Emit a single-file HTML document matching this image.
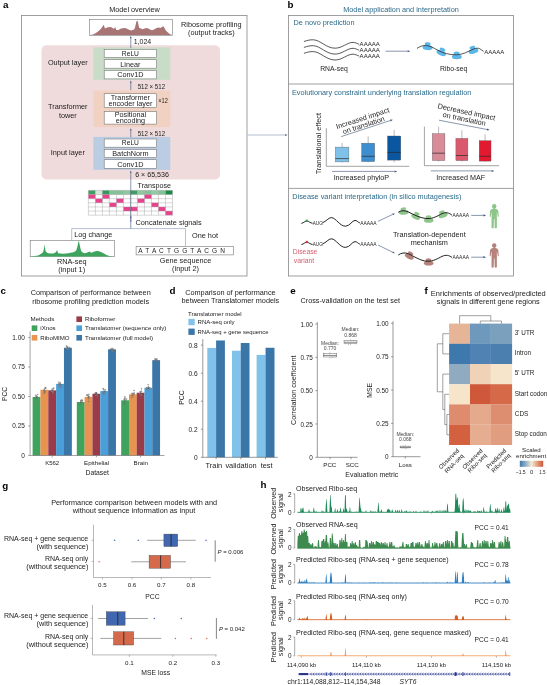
<!DOCTYPE html>
<html lang="en">
<head>
<meta charset="utf-8">
<title>Translatomer figure</title>
<style>
html,body{margin:0;padding:0;background:#fff;}
svg{display:block;font-family:"Liberation Sans",sans-serif;fill:#222;}
</style>
</head>
<body>
<svg width="547" height="685" viewBox="0 0 547 685">
<rect x="0" y="0" width="547" height="685" fill="#ffffff"/>
<text x="3.00" y="7.50" font-size="9.8" fill="#000" font-weight="bold">a</text>
<text x="134.50" y="11.78" font-size="7.3" text-anchor="middle">Model overview</text>
<rect x="21.50" y="15.45" width="225.50" height="260.55" fill="none" stroke="#888" stroke-width="0.8"/>
<rect x="89.30" y="19.60" width="83.30" height="15.70" fill="#fff" stroke="#777" stroke-width="0.6"/>
<path d="M91,34.95 L91,34.7 L93,34.5 L95,33.6 L97,32.3 L99.2,30.6 L101,28.8 L102.6,26.6 L103.7,24.7 L104.4,26.8 L105,28.6 L106.2,28 L107.5,27.3 L109,27.2 L110.7,26.9 L112.2,27.8 L113.5,28.7 L114.6,28 L115.2,26.9 L115.7,28.6 L116.2,29.9 L117.3,30.1 L118.4,29.9 L119.7,29.2 L121,28.6 L123,28.2 L124.8,27.9 L126.4,28.6 L128,29.3 L129.6,30 L131.2,30.5 L132.8,30 L134.4,29.2 L135.4,26 L136.3,21.8 L137.1,20.8 L137.9,21.4 L138.5,25 L139.1,27.8 L140.8,28.6 L142.7,29.3 L144.6,28.6 L146.5,27.9 L148.2,28.6 L150,29.4 L152,30.3 L154,29.6 L156.6,27.9 L158.5,27.6 L160.5,27.9 L162,27 L163.3,26.2 L164.2,27.6 L165.4,29.8 L166.8,31.4 L168.5,33 L170,34.2 L171.8,34.8 L171.8,34.95 Z" fill="#a87474" />
<text x="211.30" y="26.88" font-size="7.3" text-anchor="middle">Ribosome profiling</text>
<text x="211.30" y="34.98" font-size="7.3" text-anchor="middle">(output tracks)</text>
<rect x="41.50" y="45.30" width="178.50" height="134.10" fill="#f0dbdc" rx="5"/>
<rect x="93.40" y="47.40" width="76.90" height="32.40" fill="#c8dcc8"/>
<rect x="93.40" y="90.50" width="76.90" height="36.60" fill="#f1d2c2"/>
<rect x="93.40" y="136.90" width="76.90" height="32.90" fill="#bacde3"/>
<line x1="130.80" y1="45.30" x2="130.80" y2="38.20" stroke="#3a5078" stroke-width="0.6"/>
<path d="M130.80,36.00 L131.70,38.20 L129.90,38.20 Z" fill="#3a5078" />
<line x1="130.80" y1="48.10" x2="130.80" y2="45.30" stroke="#3a5078" stroke-width="0.6"/>
<line x1="130.80" y1="90.10" x2="130.80" y2="82.70" stroke="#3a5078" stroke-width="0.6"/>
<path d="M130.80,80.50 L131.70,82.70 L129.90,82.70 Z" fill="#3a5078" />
<line x1="130.80" y1="137.20" x2="130.80" y2="130.40" stroke="#3a5078" stroke-width="0.6"/>
<path d="M130.80,128.20 L131.70,130.40 L129.90,130.40 Z" fill="#3a5078" />
<rect x="104.20" y="49.30" width="52.40" height="8.20" fill="#fff" stroke="#777" stroke-width="0.6"/>
<text x="130.40" y="55.78" font-size="6.7" text-anchor="middle">ReLU</text>
<rect x="104.20" y="59.70" width="52.40" height="8.50" fill="#fff" stroke="#777" stroke-width="0.6"/>
<text x="130.40" y="66.52" font-size="7.25" text-anchor="middle">Linear</text>
<rect x="104.20" y="70.40" width="52.40" height="8.50" fill="#fff" stroke="#777" stroke-width="0.6"/>
<text x="130.40" y="77.22" font-size="7.25" text-anchor="middle">Conv1D</text>
<rect x="104.20" y="93.70" width="52.40" height="13.80" fill="#fff" stroke="#777" stroke-width="0.6"/>
<text x="130.40" y="100.06" font-size="7.25" text-anchor="middle">Transformer</text>
<text x="130.40" y="105.66" font-size="7.25" text-anchor="middle">encoder layer</text>
<rect x="104.20" y="111.60" width="52.40" height="12.50" fill="#fff" stroke="#777" stroke-width="0.6"/>
<text x="130.40" y="117.31" font-size="7.25" text-anchor="middle">Positional</text>
<text x="130.40" y="122.91" font-size="7.25" text-anchor="middle">encoding</text>
<rect x="104.20" y="139.00" width="52.40" height="8.20" fill="#fff" stroke="#777" stroke-width="0.6"/>
<text x="130.40" y="145.48" font-size="6.7" text-anchor="middle">ReLU</text>
<rect x="104.20" y="149.40" width="52.40" height="8.20" fill="#fff" stroke="#777" stroke-width="0.6"/>
<text x="130.40" y="156.06" font-size="7.25" text-anchor="middle">BatchNorm</text>
<rect x="104.20" y="159.70" width="52.40" height="8.60" fill="#fff" stroke="#777" stroke-width="0.6"/>
<text x="130.40" y="166.56" font-size="7.25" text-anchor="middle">Conv1D</text>
<text x="67.80" y="64.68" font-size="7.3" text-anchor="middle">Output layer</text>
<text x="67.80" y="109.08" font-size="7.3" text-anchor="middle">Transformer</text>
<text x="67.80" y="118.18" font-size="7.3" text-anchor="middle">tower</text>
<text x="67.80" y="154.78" font-size="7.3" text-anchor="middle">Input layer</text>
<text x="133.70" y="44.05" font-size="7.2" textLength="17.50" lengthAdjust="spacingAndGlyphs">1,024</text>
<text x="137.70" y="88.98" font-size="7.0" textLength="27.40" lengthAdjust="spacingAndGlyphs">512 × 512</text>
<text x="137.70" y="135.78" font-size="7.0" textLength="27.40" lengthAdjust="spacingAndGlyphs">512 × 512</text>
<text x="158.30" y="102.91" font-size="6.8" textLength="9.50" lengthAdjust="spacingAndGlyphs">×12</text>
<text x="135.20" y="177.41" font-size="7.1">6 × 65,536</text>
<text x="137.60" y="187.63" font-size="7.15">Transpose</text>
<rect x="88.40" y="190.40" width="7.01" height="4.13" fill="#3f9f63"/>
<rect x="95.41" y="190.40" width="7.01" height="4.13" fill="#d2e9d7"/>
<rect x="102.42" y="190.40" width="7.01" height="4.13" fill="#33985a"/>
<rect x="109.43" y="190.40" width="7.01" height="4.13" fill="#82c297"/>
<rect x="116.43" y="190.40" width="7.01" height="4.13" fill="#82c297"/>
<rect x="123.44" y="190.40" width="7.01" height="4.13" fill="#8cc7a0"/>
<rect x="130.45" y="190.40" width="7.01" height="4.13" fill="#3f9f63"/>
<rect x="137.46" y="190.40" width="7.01" height="4.13" fill="#8cc7a0"/>
<rect x="144.47" y="190.40" width="7.01" height="4.13" fill="#82c297"/>
<rect x="151.47" y="190.40" width="7.01" height="4.13" fill="#92caa5"/>
<rect x="158.48" y="190.40" width="7.01" height="4.13" fill="#82c297"/>
<rect x="165.49" y="190.40" width="7.01" height="4.13" fill="#1b8744"/>
<rect x="88.40" y="194.53" width="7.01" height="4.13" fill="#e8428c"/>
<rect x="102.42" y="194.53" width="7.01" height="4.13" fill="#e8428c"/>
<rect x="144.47" y="194.53" width="7.01" height="4.13" fill="#e8428c"/>
<rect x="95.41" y="198.67" width="7.01" height="4.13" fill="#e8428c"/>
<rect x="116.43" y="198.67" width="7.01" height="4.13" fill="#e8428c"/>
<rect x="137.46" y="198.67" width="7.01" height="4.13" fill="#e8428c"/>
<rect x="109.43" y="202.80" width="7.01" height="4.13" fill="#e8428c"/>
<rect x="151.47" y="202.80" width="7.01" height="4.13" fill="#e8428c"/>
<rect x="123.44" y="206.93" width="7.01" height="4.13" fill="#e8428c"/>
<rect x="130.45" y="206.93" width="7.01" height="4.13" fill="#e8428c"/>
<rect x="158.48" y="206.93" width="7.01" height="4.13" fill="#e8428c"/>
<rect x="165.49" y="211.07" width="7.01" height="4.13" fill="#e8428c"/>
<line x1="88.40" y1="190.40" x2="88.40" y2="215.20" stroke="#9a9a9a" stroke-width="0.4"/>
<line x1="95.41" y1="190.40" x2="95.41" y2="215.20" stroke="#9a9a9a" stroke-width="0.4"/>
<line x1="102.42" y1="190.40" x2="102.42" y2="215.20" stroke="#9a9a9a" stroke-width="0.4"/>
<line x1="109.43" y1="190.40" x2="109.43" y2="215.20" stroke="#9a9a9a" stroke-width="0.4"/>
<line x1="116.43" y1="190.40" x2="116.43" y2="215.20" stroke="#9a9a9a" stroke-width="0.4"/>
<line x1="123.44" y1="190.40" x2="123.44" y2="215.20" stroke="#9a9a9a" stroke-width="0.4"/>
<line x1="130.45" y1="190.40" x2="130.45" y2="215.20" stroke="#9a9a9a" stroke-width="0.4"/>
<line x1="137.46" y1="190.40" x2="137.46" y2="215.20" stroke="#9a9a9a" stroke-width="0.4"/>
<line x1="144.47" y1="190.40" x2="144.47" y2="215.20" stroke="#9a9a9a" stroke-width="0.4"/>
<line x1="151.47" y1="190.40" x2="151.47" y2="215.20" stroke="#9a9a9a" stroke-width="0.4"/>
<line x1="158.48" y1="190.40" x2="158.48" y2="215.20" stroke="#9a9a9a" stroke-width="0.4"/>
<line x1="165.49" y1="190.40" x2="165.49" y2="215.20" stroke="#9a9a9a" stroke-width="0.4"/>
<line x1="172.50" y1="190.40" x2="172.50" y2="215.20" stroke="#9a9a9a" stroke-width="0.4"/>
<line x1="88.40" y1="190.40" x2="172.50" y2="190.40" stroke="#9a9a9a" stroke-width="0.4"/>
<line x1="88.40" y1="194.53" x2="172.50" y2="194.53" stroke="#9a9a9a" stroke-width="0.4"/>
<line x1="88.40" y1="198.67" x2="172.50" y2="198.67" stroke="#9a9a9a" stroke-width="0.4"/>
<line x1="88.40" y1="202.80" x2="172.50" y2="202.80" stroke="#9a9a9a" stroke-width="0.4"/>
<line x1="88.40" y1="206.93" x2="172.50" y2="206.93" stroke="#9a9a9a" stroke-width="0.4"/>
<line x1="88.40" y1="211.07" x2="172.50" y2="211.07" stroke="#9a9a9a" stroke-width="0.4"/>
<line x1="88.40" y1="215.20" x2="172.50" y2="215.20" stroke="#9a9a9a" stroke-width="0.4"/>
<line x1="130.80" y1="228.60" x2="130.80" y2="172.80" stroke="#3a5078" stroke-width="0.6"/>
<path d="M130.80,170.60 L131.70,172.80 L129.90,172.80 Z" fill="#3a5078" />
<line x1="130.80" y1="222.00" x2="130.80" y2="217.80" stroke="#3a5078" stroke-width="0.6"/>
<path d="M130.80,215.60 L131.70,217.80 L129.90,217.80 Z" fill="#3a5078" />
<text x="135.50" y="224.88" font-size="7.3">Concatenate signals</text>
<path d="M71.7,240.6 L71.7,228.6 L185.5,228.6 L185.5,246.4" fill="none" stroke="#8496b5" stroke-width="0.6" />
<text x="74.20" y="237.18" font-size="7.3">Log change</text>
<text x="192.00" y="238.08" font-size="7.3">One hot</text>
<rect x="30.20" y="240.60" width="84.20" height="16.10" fill="#fff" stroke="#777" stroke-width="0.6"/>
<path d="M31.1,256.6 L31.1,256.4 L34,256.1 L37.1,255.7 L39.2,254.9 L41.1,253.8 L43.1,252.2 L43.9,249 L44.5,244.2 L45.1,248.5 L45.7,251.2 L46.8,252.4 L48.2,253.2 L50.6,253.5 L53.2,253.6 L54.6,253.1 L55.8,252.2 L56.5,251 L57,250.2 L57.6,251.8 L58.2,253.2 L60.5,253.6 L63.2,253.8 L65.8,253.5 L68.3,253.2 L70.8,252.8 L73.3,252.2 L75,251.4 L76.3,250.2 L77.2,247.6 L77.9,244.1 L78.4,242 L78.9,240.8 L79.4,243.4 L79.9,246.1 L80.6,249 L81.3,251.2 L82.8,252.4 L84.3,253.2 L85.8,253 L87.4,252.6 L88.4,252 L89.4,251.6 L90.4,252.2 L91.4,252.8 L92.9,252.2 L94.4,251.6 L95.9,251.2 L97.4,251 L98.9,251.3 L100.4,251.8 L102.4,252.7 L104.5,253.8 L106.5,254.9 L108.5,255.8 L111,256.3 L113.5,256.5 L113.5,256.6 Z" fill="#3da35d" />
<text x="71.70" y="264.18" font-size="7.3" text-anchor="middle">RNA-seq</text>
<text x="71.70" y="272.08" font-size="7.3" text-anchor="middle">(input 1)</text>
<rect x="136.10" y="246.40" width="97.40" height="8.50" fill="#fff" stroke="#777" stroke-width="0.6"/>
<text x="138.20" y="253.01" font-size="6.5" textLength="86.80" lengthAdjust="spacing">A T A C T G G T A C G N</text>
<text x="185.50" y="263.18" font-size="7.3" text-anchor="middle">Gene sequence</text>
<text x="185.50" y="270.98" font-size="7.3" text-anchor="middle">(input 2)</text>
<line x1="247.40" y1="135.00" x2="285.50" y2="135.00" stroke="#b4bfce" stroke-width="1.0"/>
<path d="M287.6,135.0 L285.2,133.9 L285.2,136.1 Z" fill="#4a6088" />
<text x="287.50" y="7.50" font-size="9.8" fill="#000" font-weight="bold">b</text>
<text x="401.00" y="11.68" font-size="7.3" text-anchor="middle" fill="#2a6a8a">Model application and interpretation</text>
<rect x="288.40" y="15.45" width="225.00" height="260.55" fill="none" stroke="#888" stroke-width="0.8"/>
<line x1="288.40" y1="84.00" x2="513.40" y2="84.00" stroke="#888" stroke-width="0.8"/>
<line x1="288.40" y1="188.40" x2="513.40" y2="188.40" stroke="#888" stroke-width="0.8"/>
<text x="293.60" y="24.78" font-size="7.3" fill="#2a6a8a">De novo prediction</text>
<path d="M304.30,41.40 C307.30,40.30 310.30,39.70 313.30,39.80 C320.30,40.00 326.30,48.20 335.00,48.20 C342.30,48.20 347.30,42.30 353.00,42.40 C355.30,42.40 357.30,43.60 358.80,44.20" fill="none" stroke="#222" stroke-width="0.75" stroke-linecap="round"/>
<text x="359.60" y="46.46" font-size="6.05">AAAAA</text>
<path d="M304.30,47.30 C307.30,46.20 310.30,45.60 313.30,45.70 C320.30,45.90 326.30,54.10 335.00,54.10 C342.30,54.10 347.30,48.20 353.00,48.30 C355.30,48.30 357.30,49.50 358.80,50.10" fill="none" stroke="#222" stroke-width="0.75" stroke-linecap="round"/>
<text x="359.60" y="52.36" font-size="6.05">AAAAA</text>
<path d="M304.30,53.20 C307.30,52.10 310.30,51.50 313.30,51.60 C320.30,51.80 326.30,60.00 335.00,60.00 C342.30,60.00 347.30,54.10 353.00,54.20 C355.30,54.20 357.30,55.40 358.80,56.00" fill="none" stroke="#222" stroke-width="0.75" stroke-linecap="round"/>
<text x="359.60" y="58.26" font-size="6.05">AAAAA</text>
<line x1="385.50" y1="51.20" x2="407.60" y2="51.20" stroke="#3a5078" stroke-width="0.6"/>
<path d="M410.20,51.20 L407.60,52.20 L407.60,50.20 Z" fill="#3a5078" />
<text x="334.00" y="71.41" font-size="6.8" text-anchor="middle">RNA-seq</text>
<g transform="rotate(5 427.70 45.70)">
<ellipse cx="427.50" cy="43.90" rx="3.0" ry="1.6" fill="#5cb7e6"/>
<ellipse cx="427.70" cy="47.60" rx="5.0" ry="2.5" fill="#5cb7e6"/>
</g>
<g transform="rotate(24 442.00 51.20)">
<ellipse cx="441.80" cy="49.40" rx="3.0" ry="1.6" fill="#5cb7e6"/>
<ellipse cx="442.00" cy="53.10" rx="5.0" ry="2.5" fill="#5cb7e6"/>
</g>
<g transform="rotate(0 456.80 54.80)">
<ellipse cx="456.60" cy="53.00" rx="3.0" ry="1.6" fill="#5cb7e6"/>
<ellipse cx="456.80" cy="56.70" rx="5.0" ry="2.5" fill="#5cb7e6"/>
</g>
<g transform="rotate(-16 473.00 49.20)">
<ellipse cx="472.80" cy="47.40" rx="3.0" ry="1.6" fill="#5cb7e6"/>
<ellipse cx="473.00" cy="51.10" rx="5.0" ry="2.5" fill="#5cb7e6"/>
</g>
<path d="M417.3,48.2 C420,46.4 422.5,45.4 425.5,45.5 C430,45.7 433,47.6 437.4,50.0 C443,53.0 449,54.9 456.6,54.8 C463,54.7 468,51.4 474,48.8 C476,48.0 478,48.0 479.5,48.6 C481,49.3 482,50.6 483.3,51.2" fill="none" stroke="#222" stroke-width="0.75" stroke-linecap="round"/>
<text x="484.20" y="53.94" font-size="6.0">AAAAA</text>
<text x="453.70" y="70.81" font-size="6.8" text-anchor="middle">Ribo-seq</text>
<text x="292.00" y="94.78" font-size="7.3" fill="#2a6a8a">Evolutionary constraint underlying translation regulation</text>
<path d="M326.3,128.1 L326.3,166.3 L409.3,166.3" fill="none" stroke="#666" stroke-width="0.6" />
<text x="320.60" y="143.70" font-size="7.3" text-anchor="middle" transform="rotate(-90 320.60 143.70)">Translational effect</text>
<line x1="342.10" y1="142.70" x2="342.10" y2="162.60" stroke="#8a8a8a" stroke-width="0.6"/>
<rect x="335.30" y="147.10" width="13.60" height="14.80" fill="#7fc1e9" stroke="#555" stroke-width="0.35"/>
<line x1="335.30" y1="158.60" x2="348.90" y2="158.60" stroke="#2a2a2a" stroke-width="0.7"/>
<line x1="368.15" y1="136.30" x2="368.15" y2="162.40" stroke="#8a8a8a" stroke-width="0.6"/>
<rect x="361.60" y="143.20" width="13.10" height="18.40" fill="#3e8ecf" stroke="#555" stroke-width="0.35"/>
<line x1="361.60" y1="156.30" x2="374.70" y2="156.30" stroke="#2a2a2a" stroke-width="0.7"/>
<line x1="394.15" y1="129.90" x2="394.15" y2="162.20" stroke="#8a8a8a" stroke-width="0.6"/>
<rect x="387.50" y="136.00" width="13.30" height="24.10" fill="#0a579f" stroke="#555" stroke-width="0.35"/>
<line x1="387.50" y1="152.40" x2="400.80" y2="152.40" stroke="#2a2a2a" stroke-width="0.7"/>
<text x="363.40" y="120.60" font-size="7.3" text-anchor="middle" transform="rotate(-18.0 363.40 120.60)">Increased impact</text>
<text x="364.40" y="127.40" font-size="7.3" text-anchor="middle" transform="rotate(-18.0 364.40 127.40)">on translation</text>
<line x1="341.20" y1="136.60" x2="390.33" y2="120.51" stroke="#3a5078" stroke-width="0.6"/>
<path d="M392.80,119.70 L390.64,121.46 L390.02,119.56 Z" fill="#3a5078" />
<line x1="332.00" y1="171.40" x2="394.60" y2="171.40" stroke="#3a5078" stroke-width="0.6"/>
<path d="M397.20,171.40 L394.60,172.40 L394.60,170.40 Z" fill="#3a5078" />
<text x="361.40" y="179.75" font-size="7.2" text-anchor="middle">Increased phyloP</text>
<path d="M424.4,126.6 L424.4,165.7 L499.1,165.7" fill="none" stroke="#666" stroke-width="0.6" />
<line x1="438.60" y1="126.60" x2="438.60" y2="161.60" stroke="#8a8a8a" stroke-width="0.6"/>
<rect x="432.30" y="133.70" width="12.60" height="26.90" fill="#d98b98" stroke="#555" stroke-width="0.35"/>
<line x1="432.30" y1="153.20" x2="444.90" y2="153.20" stroke="#2a2a2a" stroke-width="0.7"/>
<line x1="461.90" y1="130.40" x2="461.90" y2="161.60" stroke="#8a8a8a" stroke-width="0.6"/>
<rect x="455.90" y="138.40" width="12.00" height="22.20" fill="#da596d" stroke="#555" stroke-width="0.35"/>
<line x1="455.90" y1="155.50" x2="467.90" y2="155.50" stroke="#2a2a2a" stroke-width="0.7"/>
<line x1="485.10" y1="134.30" x2="485.10" y2="161.90" stroke="#8a8a8a" stroke-width="0.6"/>
<rect x="479.20" y="140.70" width="11.80" height="20.40" fill="#e2192f" stroke="#555" stroke-width="0.35"/>
<line x1="479.20" y1="156.30" x2="491.00" y2="156.30" stroke="#2a2a2a" stroke-width="0.7"/>
<text x="466.00" y="114.40" font-size="7.3" text-anchor="middle" transform="rotate(12.0 466.00 114.40)">Decreased impact</text>
<text x="463.80" y="121.40" font-size="7.3" text-anchor="middle" transform="rotate(12.0 463.80 121.40)">on translation</text>
<line x1="439.00" y1="120.20" x2="487.05" y2="129.51" stroke="#3a5078" stroke-width="0.6"/>
<path d="M489.60,130.00 L486.86,130.49 L487.24,128.52 Z" fill="#3a5078" />
<line x1="430.80" y1="170.90" x2="491.60" y2="170.90" stroke="#3a5078" stroke-width="0.6"/>
<path d="M494.20,170.90 L491.60,171.90 L491.60,169.90 Z" fill="#3a5078" />
<text x="460.70" y="179.85" font-size="7.2" text-anchor="middle">Increased MAF</text>
<text x="292.30" y="199.08" font-size="7.3" fill="#2a6a8a">Disease variant interpretation (in silico mutagenesis)</text>
<path d="M301.8,223.30 C304,222.80 305.5,220.60 307.2,221.00 C309,221.40 310,223.00 312.2,223.20" fill="none" stroke="#151515" stroke-width="0.95" stroke-linecap="round"/>
<circle cx="306.90" cy="220.70" r="1.25" fill="#3da35d"/>
<text x="312.80" y="225.06" font-size="4.6">AUG</text>
<path d="M322.8,222.60 C326,221.80 328.5,217.40 331.5,217.60 C336,218.00 340,226.40 345.5,226.20 C350,226.00 352,220.60 355,220.40 C357,220.40 358,222.40 359.5,222.80" fill="none" stroke="#151515" stroke-width="0.95" stroke-linecap="round"/>
<text x="360.20" y="225.17" font-size="4.9">AAAAA</text>
<path d="M301.8,244.50 C304,244.00 305.5,241.80 307.2,242.20 C309,242.60 310,244.20 312.2,244.40" fill="none" stroke="#151515" stroke-width="0.95" stroke-linecap="round"/>
<circle cx="306.90" cy="241.90" r="1.25" fill="#d0394e"/>
<text x="312.80" y="246.26" font-size="4.6">AUG</text>
<path d="M322.8,243.80 C326,243.00 328.5,238.60 331.5,238.80 C336,239.20 340,247.60 345.5,247.40 C350,247.20 352,241.80 355,241.60 C357,241.60 358,243.60 359.5,244.00" fill="none" stroke="#151515" stroke-width="0.95" stroke-linecap="round"/>
<text x="360.20" y="246.37" font-size="4.9">AAAAA</text>
<text x="292.80" y="254.31" font-size="6.8" fill="#d95c6e">Disease</text>
<text x="293.80" y="262.61" font-size="6.8" fill="#d95c6e">variant</text>
<line x1="378.00" y1="221.30" x2="392.73" y2="214.42" stroke="#3a5078" stroke-width="0.6"/>
<path d="M394.90,213.40 L393.13,215.28 L392.32,213.56 Z" fill="#3a5078" />
<line x1="378.00" y1="245.00" x2="392.75" y2="252.24" stroke="#3a5078" stroke-width="0.6"/>
<path d="M394.90,253.30 L392.33,253.09 L393.16,251.39 Z" fill="#3a5078" />
<g transform="rotate(-5 403.60 210.60)">
<ellipse cx="403.41" cy="208.89" rx="2.8499999999999996" ry="1.52" fill="#8ec58a"/>
<ellipse cx="403.60" cy="212.41" rx="4.75" ry="2.375" fill="#8ec58a"/>
</g>
<g transform="rotate(25 416.40 215.20)">
<ellipse cx="416.21" cy="213.49" rx="2.8499999999999996" ry="1.52" fill="#8ec58a"/>
<ellipse cx="416.40" cy="217.00" rx="4.75" ry="2.375" fill="#8ec58a"/>
</g>
<g transform="rotate(0 428.70 218.60)">
<ellipse cx="428.51" cy="216.89" rx="2.8499999999999996" ry="1.52" fill="#8ec58a"/>
<ellipse cx="428.70" cy="220.41" rx="4.75" ry="2.375" fill="#8ec58a"/>
</g>
<g transform="rotate(-20 442.50 213.60)">
<ellipse cx="442.31" cy="211.89" rx="2.8499999999999996" ry="1.52" fill="#8ec58a"/>
<ellipse cx="442.50" cy="215.41" rx="4.75" ry="2.375" fill="#8ec58a"/>
</g>
<path d="M398.6,212.0 C401,210.2 405,210.4 408,211.8 C414,214.6 420,218.2 427,218.6 C433,219 438,215.6 442,213.6 C446,211.8 449,212.8 451.7,215.0" fill="none" stroke="#151515" stroke-width="0.95" stroke-linecap="round"/>
<text x="452.60" y="217.27" font-size="4.9">AAAAA</text>
<line x1="471.20" y1="215.40" x2="483.40" y2="215.40" stroke="#3a5078" stroke-width="0.6"/>
<path d="M486.00,215.40 L483.40,216.50 L483.40,214.30 Z" fill="#3a5078" />
<circle cx="494.20" cy="206.17" r="2.2226720647773286" fill="#8ec58a"/>
<path transform="translate(494.20 203.90) scale(0.988)" d="M -1.0,4.9 L 1.0,4.9 C 2.8,5.0 3.9,5.8 4.2,7.4 L 4.6,12.6 C 4.6,13.4 3.7,13.5 3.6,12.7 L 3.0,8.8 L 2.7,8.8 L 2.7,24.2 C 2.7,24.9 0.5,24.9 0.5,24.2 L 0.3,15.4 L -0.3,15.4 L -0.5,24.2 C -0.5,24.9 -2.7,24.9 -2.7,24.2 L -2.7,8.8 L -3.0,8.8 L -3.6,12.7 C -3.7,13.5 -4.6,13.4 -4.6,12.6 L -4.2,7.4 C -3.9,5.8 -2.8,5.0 -1.0,4.9 Z" fill="#8ec58a"/>
<rect x="493.31" y="207.85" width="1.78" height="1.19" fill="#8ec58a"/>
<text x="429.30" y="237.08" font-size="7.3" text-anchor="middle">Translation-dependent</text>
<text x="429.30" y="245.48" font-size="7.3" text-anchor="middle">mechanism</text>
<g transform="rotate(25 410.10 254.90)">
<ellipse cx="409.91" cy="253.19" rx="2.8499999999999996" ry="1.52" fill="#b5827c"/>
<ellipse cx="410.10" cy="256.70" rx="4.75" ry="2.375" fill="#b5827c"/>
</g>
<g transform="rotate(0 428.70 261.40)">
<ellipse cx="428.51" cy="259.69" rx="2.8499999999999996" ry="1.52" fill="#b5827c"/>
<ellipse cx="428.70" cy="263.20" rx="4.75" ry="2.375" fill="#b5827c"/>
</g>
<path d="M398.6,254.8 C401,252.8 405,252.4 408,253.6 C414,256.2 420,260.8 427,261.2 C433,261.6 438,258.4 442,256.4 C446,254.6 449,255.2 451.7,257.2" fill="none" stroke="#151515" stroke-width="0.95" stroke-linecap="round"/>
<text x="452.60" y="259.07" font-size="4.9">AAAAA</text>
<line x1="471.20" y1="257.20" x2="483.40" y2="257.20" stroke="#3a5078" stroke-width="0.6"/>
<path d="M486.00,257.20 L483.40,258.30 L483.40,256.10 Z" fill="#3a5078" />
<circle cx="494.20" cy="245.47" r="2.2226720647773313" fill="#b5827c"/>
<path transform="translate(494.20 243.20) scale(0.988)" d="M -1.0,4.9 L 1.0,4.9 C 2.8,5.0 3.9,5.8 4.2,7.4 L 4.6,12.6 C 4.6,13.4 3.7,13.5 3.6,12.7 L 3.0,8.8 L 2.7,8.8 L 2.7,24.2 C 2.7,24.9 0.5,24.9 0.5,24.2 L 0.3,15.4 L -0.3,15.4 L -0.5,24.2 C -0.5,24.9 -2.7,24.9 -2.7,24.2 L -2.7,8.8 L -3.0,8.8 L -3.6,12.7 C -3.7,13.5 -4.6,13.4 -4.6,12.6 L -4.2,7.4 C -3.9,5.8 -2.8,5.0 -1.0,4.9 Z" fill="#b5827c"/>
<rect x="493.31" y="247.15" width="1.78" height="1.19" fill="#b5827c"/>
<text x="0.50" y="294.20" font-size="9.8" fill="#000" font-weight="bold">c</text>
<text x="90.70" y="295.48" font-size="7.3" text-anchor="middle">Comparison of performance between</text>
<text x="90.70" y="303.88" font-size="7.3" text-anchor="middle">ribosome profiling prediction models</text>
<text x="30.50" y="321.31" font-size="6.2">Methods</text>
<rect x="31.70" y="325.40" width="5.60" height="5.60" fill="#3da35d"/>
<text x="40.30" y="330.29" font-size="6.15">iXnos</text>
<rect x="31.70" y="335.00" width="5.60" height="5.60" fill="#e99350"/>
<text x="40.30" y="339.89" font-size="6.15">RiboMIMO</text>
<rect x="76.40" y="316.40" width="5.60" height="5.60" fill="#9a3b4a"/>
<text x="85.00" y="321.29" font-size="6.15">Riboformer</text>
<rect x="76.40" y="325.40" width="5.60" height="5.60" fill="#4b9fd9"/>
<text x="85.00" y="330.29" font-size="6.15">Translatomer (sequence only)</text>
<rect x="76.40" y="335.00" width="5.60" height="5.60" fill="#3b76a9"/>
<text x="85.00" y="339.89" font-size="6.15">Translatomer (full model)</text>
<rect x="32.60" y="396.97" width="7.89" height="58.53" fill="#3da35d"/>
<rect x="40.44" y="389.77" width="7.89" height="65.73" fill="#e99350"/>
<rect x="48.28" y="390.36" width="7.89" height="65.14" fill="#9a3b4a"/>
<rect x="56.12" y="383.87" width="7.89" height="71.63" fill="#4b9fd9"/>
<rect x="63.96" y="347.77" width="7.89" height="107.73" fill="#3b76a9"/>
<line x1="36.52" y1="395.37" x2="36.52" y2="398.57" stroke="#333" stroke-width="0.5"/>
<circle cx="35.68" cy="395.31" r="0.55" fill="#bbb" stroke="#333" stroke-width="0.25"/>
<circle cx="36.85" cy="396.50" r="0.55" fill="#bbb" stroke="#333" stroke-width="0.25"/>
<circle cx="36.92" cy="397.24" r="0.55" fill="#bbb" stroke="#333" stroke-width="0.25"/>
<circle cx="37.60" cy="397.09" r="0.55" fill="#bbb" stroke="#333" stroke-width="0.25"/>
<circle cx="35.75" cy="397.56" r="0.55" fill="#bbb" stroke="#333" stroke-width="0.25"/>
<circle cx="36.42" cy="402.88" r="0.55" fill="#bbb" stroke="#333" stroke-width="0.25"/>
<circle cx="37.60" cy="394.43" r="0.55" fill="#bbb" stroke="#333" stroke-width="0.25"/>
<circle cx="35.40" cy="397.35" r="0.55" fill="#bbb" stroke="#333" stroke-width="0.25"/>
<circle cx="36.95" cy="398.45" r="0.55" fill="#bbb" stroke="#333" stroke-width="0.25"/>
<line x1="44.36" y1="388.17" x2="44.36" y2="391.37" stroke="#333" stroke-width="0.5"/>
<circle cx="45.13" cy="388.16" r="0.55" fill="#bbb" stroke="#333" stroke-width="0.25"/>
<circle cx="44.91" cy="392.56" r="0.55" fill="#bbb" stroke="#333" stroke-width="0.25"/>
<circle cx="44.65" cy="390.96" r="0.55" fill="#bbb" stroke="#333" stroke-width="0.25"/>
<circle cx="43.72" cy="393.31" r="0.55" fill="#bbb" stroke="#333" stroke-width="0.25"/>
<circle cx="44.27" cy="390.47" r="0.55" fill="#bbb" stroke="#333" stroke-width="0.25"/>
<circle cx="45.06" cy="391.84" r="0.55" fill="#bbb" stroke="#333" stroke-width="0.25"/>
<circle cx="45.71" cy="387.81" r="0.55" fill="#bbb" stroke="#333" stroke-width="0.25"/>
<circle cx="44.02" cy="390.39" r="0.55" fill="#bbb" stroke="#333" stroke-width="0.25"/>
<circle cx="45.75" cy="387.92" r="0.55" fill="#bbb" stroke="#333" stroke-width="0.25"/>
<line x1="52.20" y1="388.76" x2="52.20" y2="391.96" stroke="#333" stroke-width="0.5"/>
<circle cx="53.41" cy="391.16" r="0.55" fill="#bbb" stroke="#333" stroke-width="0.25"/>
<circle cx="51.29" cy="390.92" r="0.55" fill="#bbb" stroke="#333" stroke-width="0.25"/>
<circle cx="53.69" cy="388.04" r="0.55" fill="#bbb" stroke="#333" stroke-width="0.25"/>
<circle cx="51.56" cy="391.35" r="0.55" fill="#bbb" stroke="#333" stroke-width="0.25"/>
<circle cx="52.22" cy="389.10" r="0.55" fill="#bbb" stroke="#333" stroke-width="0.25"/>
<circle cx="52.47" cy="391.46" r="0.55" fill="#bbb" stroke="#333" stroke-width="0.25"/>
<circle cx="52.47" cy="392.61" r="0.55" fill="#bbb" stroke="#333" stroke-width="0.25"/>
<circle cx="53.57" cy="388.82" r="0.55" fill="#bbb" stroke="#333" stroke-width="0.25"/>
<circle cx="53.34" cy="393.04" r="0.55" fill="#bbb" stroke="#333" stroke-width="0.25"/>
<line x1="60.04" y1="382.27" x2="60.04" y2="385.47" stroke="#333" stroke-width="0.5"/>
<circle cx="58.96" cy="383.72" r="0.55" fill="#bbb" stroke="#333" stroke-width="0.25"/>
<circle cx="61.19" cy="387.68" r="0.55" fill="#bbb" stroke="#333" stroke-width="0.25"/>
<circle cx="60.26" cy="383.01" r="0.55" fill="#bbb" stroke="#333" stroke-width="0.25"/>
<circle cx="60.72" cy="384.70" r="0.55" fill="#bbb" stroke="#333" stroke-width="0.25"/>
<circle cx="60.28" cy="387.17" r="0.55" fill="#bbb" stroke="#333" stroke-width="0.25"/>
<circle cx="59.35" cy="387.13" r="0.55" fill="#bbb" stroke="#333" stroke-width="0.25"/>
<circle cx="61.61" cy="385.24" r="0.55" fill="#bbb" stroke="#333" stroke-width="0.25"/>
<circle cx="58.72" cy="384.45" r="0.55" fill="#bbb" stroke="#333" stroke-width="0.25"/>
<circle cx="58.92" cy="382.12" r="0.55" fill="#bbb" stroke="#333" stroke-width="0.25"/>
<line x1="67.88" y1="346.17" x2="67.88" y2="349.37" stroke="#333" stroke-width="0.5"/>
<circle cx="67.22" cy="347.98" r="0.55" fill="#bbb" stroke="#333" stroke-width="0.25"/>
<circle cx="66.42" cy="345.95" r="0.55" fill="#bbb" stroke="#333" stroke-width="0.25"/>
<circle cx="68.25" cy="349.14" r="0.55" fill="#bbb" stroke="#333" stroke-width="0.25"/>
<circle cx="67.34" cy="348.17" r="0.55" fill="#bbb" stroke="#333" stroke-width="0.25"/>
<circle cx="69.10" cy="348.83" r="0.55" fill="#bbb" stroke="#333" stroke-width="0.25"/>
<circle cx="69.48" cy="347.64" r="0.55" fill="#bbb" stroke="#333" stroke-width="0.25"/>
<circle cx="67.27" cy="348.84" r="0.55" fill="#bbb" stroke="#333" stroke-width="0.25"/>
<circle cx="66.38" cy="348.33" r="0.55" fill="#bbb" stroke="#333" stroke-width="0.25"/>
<circle cx="66.91" cy="346.73" r="0.55" fill="#bbb" stroke="#333" stroke-width="0.25"/>
<rect x="76.80" y="402.05" width="7.87" height="53.45" fill="#3da35d"/>
<rect x="84.62" y="396.85" width="7.87" height="58.65" fill="#e99350"/>
<rect x="92.44" y="393.79" width="7.87" height="61.71" fill="#9a3b4a"/>
<rect x="100.26" y="391.07" width="7.87" height="64.43" fill="#4b9fd9"/>
<rect x="108.08" y="349.30" width="7.87" height="106.20" fill="#3b76a9"/>
<line x1="80.71" y1="400.45" x2="80.71" y2="403.65" stroke="#333" stroke-width="0.5"/>
<circle cx="79.61" cy="403.40" r="0.55" fill="#bbb" stroke="#333" stroke-width="0.25"/>
<circle cx="79.25" cy="403.10" r="0.55" fill="#bbb" stroke="#333" stroke-width="0.25"/>
<circle cx="82.18" cy="400.89" r="0.55" fill="#bbb" stroke="#333" stroke-width="0.25"/>
<circle cx="81.98" cy="400.61" r="0.55" fill="#bbb" stroke="#333" stroke-width="0.25"/>
<circle cx="80.77" cy="403.43" r="0.55" fill="#bbb" stroke="#333" stroke-width="0.25"/>
<circle cx="81.17" cy="400.15" r="0.55" fill="#bbb" stroke="#333" stroke-width="0.25"/>
<circle cx="81.09" cy="400.74" r="0.55" fill="#bbb" stroke="#333" stroke-width="0.25"/>
<circle cx="82.12" cy="400.14" r="0.55" fill="#bbb" stroke="#333" stroke-width="0.25"/>
<circle cx="81.41" cy="401.96" r="0.55" fill="#bbb" stroke="#333" stroke-width="0.25"/>
<line x1="88.53" y1="395.25" x2="88.53" y2="398.45" stroke="#333" stroke-width="0.5"/>
<circle cx="87.69" cy="395.29" r="0.55" fill="#bbb" stroke="#333" stroke-width="0.25"/>
<circle cx="88.60" cy="401.57" r="0.55" fill="#bbb" stroke="#333" stroke-width="0.25"/>
<circle cx="88.68" cy="398.71" r="0.55" fill="#bbb" stroke="#333" stroke-width="0.25"/>
<circle cx="88.79" cy="396.99" r="0.55" fill="#bbb" stroke="#333" stroke-width="0.25"/>
<circle cx="86.99" cy="394.95" r="0.55" fill="#bbb" stroke="#333" stroke-width="0.25"/>
<circle cx="87.12" cy="395.16" r="0.55" fill="#bbb" stroke="#333" stroke-width="0.25"/>
<circle cx="88.94" cy="394.20" r="0.55" fill="#bbb" stroke="#333" stroke-width="0.25"/>
<circle cx="88.06" cy="397.43" r="0.55" fill="#bbb" stroke="#333" stroke-width="0.25"/>
<circle cx="89.19" cy="396.83" r="0.55" fill="#bbb" stroke="#333" stroke-width="0.25"/>
<line x1="96.35" y1="392.19" x2="96.35" y2="395.39" stroke="#333" stroke-width="0.5"/>
<circle cx="94.94" cy="393.41" r="0.55" fill="#bbb" stroke="#333" stroke-width="0.25"/>
<circle cx="96.91" cy="395.12" r="0.55" fill="#bbb" stroke="#333" stroke-width="0.25"/>
<circle cx="96.21" cy="393.47" r="0.55" fill="#bbb" stroke="#333" stroke-width="0.25"/>
<circle cx="96.65" cy="393.06" r="0.55" fill="#bbb" stroke="#333" stroke-width="0.25"/>
<circle cx="95.75" cy="395.34" r="0.55" fill="#bbb" stroke="#333" stroke-width="0.25"/>
<circle cx="95.93" cy="392.53" r="0.55" fill="#bbb" stroke="#333" stroke-width="0.25"/>
<circle cx="95.96" cy="392.93" r="0.55" fill="#bbb" stroke="#333" stroke-width="0.25"/>
<circle cx="97.22" cy="396.09" r="0.55" fill="#bbb" stroke="#333" stroke-width="0.25"/>
<circle cx="97.10" cy="394.18" r="0.55" fill="#bbb" stroke="#333" stroke-width="0.25"/>
<line x1="104.17" y1="389.47" x2="104.17" y2="392.67" stroke="#333" stroke-width="0.5"/>
<circle cx="103.56" cy="391.63" r="0.55" fill="#bbb" stroke="#333" stroke-width="0.25"/>
<circle cx="103.33" cy="394.27" r="0.55" fill="#bbb" stroke="#333" stroke-width="0.25"/>
<circle cx="103.17" cy="388.51" r="0.55" fill="#bbb" stroke="#333" stroke-width="0.25"/>
<circle cx="102.90" cy="392.17" r="0.55" fill="#bbb" stroke="#333" stroke-width="0.25"/>
<circle cx="103.60" cy="389.36" r="0.55" fill="#bbb" stroke="#333" stroke-width="0.25"/>
<circle cx="103.97" cy="394.02" r="0.55" fill="#bbb" stroke="#333" stroke-width="0.25"/>
<circle cx="105.31" cy="391.86" r="0.55" fill="#bbb" stroke="#333" stroke-width="0.25"/>
<circle cx="104.65" cy="392.50" r="0.55" fill="#bbb" stroke="#333" stroke-width="0.25"/>
<circle cx="105.40" cy="389.85" r="0.55" fill="#bbb" stroke="#333" stroke-width="0.25"/>
<line x1="111.99" y1="347.70" x2="111.99" y2="350.90" stroke="#333" stroke-width="0.5"/>
<circle cx="110.78" cy="349.49" r="0.55" fill="#bbb" stroke="#333" stroke-width="0.25"/>
<circle cx="112.08" cy="349.89" r="0.55" fill="#bbb" stroke="#333" stroke-width="0.25"/>
<circle cx="113.07" cy="350.82" r="0.55" fill="#bbb" stroke="#333" stroke-width="0.25"/>
<circle cx="110.98" cy="349.01" r="0.55" fill="#bbb" stroke="#333" stroke-width="0.25"/>
<circle cx="112.44" cy="350.91" r="0.55" fill="#bbb" stroke="#333" stroke-width="0.25"/>
<circle cx="112.97" cy="349.03" r="0.55" fill="#bbb" stroke="#333" stroke-width="0.25"/>
<circle cx="111.32" cy="349.69" r="0.55" fill="#bbb" stroke="#333" stroke-width="0.25"/>
<circle cx="112.93" cy="349.19" r="0.55" fill="#bbb" stroke="#333" stroke-width="0.25"/>
<circle cx="111.72" cy="350.12" r="0.55" fill="#bbb" stroke="#333" stroke-width="0.25"/>
<rect x="121.20" y="400.28" width="7.81" height="55.22" fill="#3da35d"/>
<rect x="128.96" y="394.38" width="7.81" height="61.12" fill="#e99350"/>
<rect x="136.72" y="392.72" width="7.81" height="62.78" fill="#9a3b4a"/>
<rect x="144.48" y="387.77" width="7.81" height="67.73" fill="#4b9fd9"/>
<rect x="152.24" y="360.16" width="7.81" height="95.34" fill="#3b76a9"/>
<line x1="125.08" y1="398.68" x2="125.08" y2="401.88" stroke="#333" stroke-width="0.5"/>
<circle cx="124.82" cy="396.86" r="0.55" fill="#bbb" stroke="#333" stroke-width="0.25"/>
<circle cx="123.98" cy="402.46" r="0.55" fill="#bbb" stroke="#333" stroke-width="0.25"/>
<circle cx="123.49" cy="403.75" r="0.55" fill="#bbb" stroke="#333" stroke-width="0.25"/>
<circle cx="126.64" cy="398.98" r="0.55" fill="#bbb" stroke="#333" stroke-width="0.25"/>
<circle cx="124.87" cy="404.20" r="0.55" fill="#bbb" stroke="#333" stroke-width="0.25"/>
<circle cx="124.19" cy="399.01" r="0.55" fill="#bbb" stroke="#333" stroke-width="0.25"/>
<circle cx="125.87" cy="401.65" r="0.55" fill="#bbb" stroke="#333" stroke-width="0.25"/>
<circle cx="125.14" cy="398.01" r="0.55" fill="#bbb" stroke="#333" stroke-width="0.25"/>
<circle cx="124.40" cy="399.58" r="0.55" fill="#bbb" stroke="#333" stroke-width="0.25"/>
<line x1="132.84" y1="392.78" x2="132.84" y2="395.98" stroke="#333" stroke-width="0.5"/>
<circle cx="131.46" cy="395.46" r="0.55" fill="#bbb" stroke="#333" stroke-width="0.25"/>
<circle cx="133.12" cy="393.62" r="0.55" fill="#bbb" stroke="#333" stroke-width="0.25"/>
<circle cx="131.38" cy="397.57" r="0.55" fill="#bbb" stroke="#333" stroke-width="0.25"/>
<circle cx="134.13" cy="392.96" r="0.55" fill="#bbb" stroke="#333" stroke-width="0.25"/>
<circle cx="134.11" cy="390.54" r="0.55" fill="#bbb" stroke="#333" stroke-width="0.25"/>
<circle cx="134.12" cy="394.12" r="0.55" fill="#bbb" stroke="#333" stroke-width="0.25"/>
<circle cx="133.62" cy="394.24" r="0.55" fill="#bbb" stroke="#333" stroke-width="0.25"/>
<circle cx="131.79" cy="393.56" r="0.55" fill="#bbb" stroke="#333" stroke-width="0.25"/>
<circle cx="132.92" cy="396.90" r="0.55" fill="#bbb" stroke="#333" stroke-width="0.25"/>
<line x1="140.60" y1="391.12" x2="140.60" y2="394.32" stroke="#333" stroke-width="0.5"/>
<circle cx="140.32" cy="395.02" r="0.55" fill="#bbb" stroke="#333" stroke-width="0.25"/>
<circle cx="140.09" cy="391.80" r="0.55" fill="#bbb" stroke="#333" stroke-width="0.25"/>
<circle cx="139.81" cy="394.05" r="0.55" fill="#bbb" stroke="#333" stroke-width="0.25"/>
<circle cx="141.50" cy="391.16" r="0.55" fill="#bbb" stroke="#333" stroke-width="0.25"/>
<circle cx="140.13" cy="393.45" r="0.55" fill="#bbb" stroke="#333" stroke-width="0.25"/>
<circle cx="141.61" cy="394.83" r="0.55" fill="#bbb" stroke="#333" stroke-width="0.25"/>
<circle cx="139.55" cy="393.78" r="0.55" fill="#bbb" stroke="#333" stroke-width="0.25"/>
<circle cx="141.58" cy="388.80" r="0.55" fill="#bbb" stroke="#333" stroke-width="0.25"/>
<circle cx="141.64" cy="395.25" r="0.55" fill="#bbb" stroke="#333" stroke-width="0.25"/>
<line x1="148.36" y1="386.17" x2="148.36" y2="389.37" stroke="#333" stroke-width="0.5"/>
<circle cx="149.52" cy="387.89" r="0.55" fill="#bbb" stroke="#333" stroke-width="0.25"/>
<circle cx="146.92" cy="387.58" r="0.55" fill="#bbb" stroke="#333" stroke-width="0.25"/>
<circle cx="148.45" cy="389.18" r="0.55" fill="#bbb" stroke="#333" stroke-width="0.25"/>
<circle cx="148.11" cy="384.70" r="0.55" fill="#bbb" stroke="#333" stroke-width="0.25"/>
<circle cx="146.77" cy="388.30" r="0.55" fill="#bbb" stroke="#333" stroke-width="0.25"/>
<circle cx="146.94" cy="388.42" r="0.55" fill="#bbb" stroke="#333" stroke-width="0.25"/>
<circle cx="146.98" cy="388.43" r="0.55" fill="#bbb" stroke="#333" stroke-width="0.25"/>
<circle cx="149.88" cy="388.23" r="0.55" fill="#bbb" stroke="#333" stroke-width="0.25"/>
<circle cx="148.37" cy="387.16" r="0.55" fill="#bbb" stroke="#333" stroke-width="0.25"/>
<line x1="156.12" y1="358.56" x2="156.12" y2="361.76" stroke="#333" stroke-width="0.5"/>
<circle cx="155.53" cy="359.83" r="0.55" fill="#bbb" stroke="#333" stroke-width="0.25"/>
<circle cx="156.59" cy="360.93" r="0.55" fill="#bbb" stroke="#333" stroke-width="0.25"/>
<circle cx="156.40" cy="359.78" r="0.55" fill="#bbb" stroke="#333" stroke-width="0.25"/>
<circle cx="155.57" cy="360.61" r="0.55" fill="#bbb" stroke="#333" stroke-width="0.25"/>
<circle cx="154.92" cy="358.81" r="0.55" fill="#bbb" stroke="#333" stroke-width="0.25"/>
<circle cx="155.74" cy="359.67" r="0.55" fill="#bbb" stroke="#333" stroke-width="0.25"/>
<circle cx="154.78" cy="360.53" r="0.55" fill="#bbb" stroke="#333" stroke-width="0.25"/>
<circle cx="156.45" cy="360.94" r="0.55" fill="#bbb" stroke="#333" stroke-width="0.25"/>
<circle cx="157.02" cy="358.97" r="0.55" fill="#bbb" stroke="#333" stroke-width="0.25"/>
<path d="M30.1,331.3 L30.1,455.5 L164.5,455.5" fill="none" stroke="#666" stroke-width="0.6" />
<line x1="28.20" y1="337.50" x2="30.10" y2="337.50" stroke="#666" stroke-width="0.6"/>
<text x="24.80" y="339.89" font-size="6.45" text-anchor="end">1.00</text>
<line x1="28.20" y1="367.00" x2="30.10" y2="367.00" stroke="#666" stroke-width="0.6"/>
<text x="24.80" y="369.39" font-size="6.45" text-anchor="end">0.75</text>
<line x1="28.20" y1="396.50" x2="30.10" y2="396.50" stroke="#666" stroke-width="0.6"/>
<text x="24.80" y="398.89" font-size="6.45" text-anchor="end">0.50</text>
<line x1="28.20" y1="426.00" x2="30.10" y2="426.00" stroke="#666" stroke-width="0.6"/>
<text x="24.80" y="428.39" font-size="6.45" text-anchor="end">0.25</text>
<line x1="28.20" y1="455.50" x2="30.10" y2="455.50" stroke="#666" stroke-width="0.6"/>
<text x="24.80" y="457.89" font-size="6.45" text-anchor="end">0</text>
<line x1="52.20" y1="455.50" x2="52.20" y2="457.40" stroke="#666" stroke-width="0.6"/>
<line x1="96.40" y1="455.50" x2="96.40" y2="457.40" stroke="#666" stroke-width="0.6"/>
<line x1="140.60" y1="455.50" x2="140.60" y2="457.40" stroke="#666" stroke-width="0.6"/>
<text x="6.90" y="394.00" font-size="6.6" text-anchor="middle" transform="rotate(-90 6.90 394.00)">PCC</text>
<text x="52.20" y="465.04" font-size="6.0" text-anchor="middle">K562</text>
<text x="96.60" y="465.11" font-size="6.2" text-anchor="middle">Epithelial</text>
<text x="140.80" y="465.11" font-size="6.2" text-anchor="middle">Brain</text>
<text x="97.20" y="475.01" font-size="6.8" text-anchor="middle">Dataset</text>
<text x="169.60" y="293.80" font-size="9.8" fill="#000" font-weight="bold">d</text>
<text x="230.40" y="295.18" font-size="7.3" text-anchor="middle">Comparison of performance</text>
<text x="230.40" y="303.28" font-size="7.3" text-anchor="middle">between Translatomer models</text>
<text x="188.10" y="315.66" font-size="6.05">Translatomer model</text>
<rect x="188.40" y="318.90" width="6.30" height="6.30" fill="#80c2e9"/>
<text x="197.60" y="324.04" font-size="6.0">RNA-seq only</text>
<rect x="188.40" y="328.60" width="6.30" height="6.30" fill="#3b76a9"/>
<text x="197.60" y="333.81" font-size="5.9">RNA-seq + gene sequence</text>
<rect x="207.30" y="347.90" width="8.85" height="109.40" fill="#80c2e9"/>
<rect x="216.10" y="340.47" width="8.80" height="116.83" fill="#3b76a9"/>
<rect x="232.00" y="350.71" width="8.80" height="106.59" fill="#80c2e9"/>
<rect x="240.75" y="343.00" width="8.75" height="114.30" fill="#3b76a9"/>
<rect x="256.60" y="354.92" width="9.00" height="102.38" fill="#80c2e9"/>
<rect x="265.55" y="347.76" width="8.95" height="109.54" fill="#3b76a9"/>
<path d="M202.8,339.0 L202.8,457.3 L277.8,457.3" fill="none" stroke="#555" stroke-width="0.6" />
<line x1="200.90" y1="345.10" x2="202.80" y2="345.10" stroke="#555" stroke-width="0.6"/>
<text x="197.60" y="347.84" font-size="6.6" text-anchor="end">0.8</text>
<line x1="200.90" y1="373.15" x2="202.80" y2="373.15" stroke="#555" stroke-width="0.6"/>
<text x="197.60" y="375.89" font-size="6.6" text-anchor="end">0.6</text>
<line x1="200.90" y1="401.20" x2="202.80" y2="401.20" stroke="#555" stroke-width="0.6"/>
<text x="197.60" y="403.94" font-size="6.6" text-anchor="end">0.4</text>
<line x1="200.90" y1="429.25" x2="202.80" y2="429.25" stroke="#555" stroke-width="0.6"/>
<text x="197.60" y="431.99" font-size="6.6" text-anchor="end">0.2</text>
<line x1="200.90" y1="457.30" x2="202.80" y2="457.30" stroke="#555" stroke-width="0.6"/>
<text x="197.60" y="460.04" font-size="6.6" text-anchor="end">0</text>
<line x1="216.10" y1="457.30" x2="216.10" y2="459.20" stroke="#555" stroke-width="0.6"/>
<line x1="240.80" y1="457.30" x2="240.80" y2="459.20" stroke="#555" stroke-width="0.6"/>
<line x1="265.50" y1="457.30" x2="265.50" y2="459.20" stroke="#555" stroke-width="0.6"/>
<text x="184.00" y="397.60" font-size="6.8" text-anchor="middle" transform="rotate(-90 184.00 397.60)">PCC</text>
<text x="213.90" y="468.42" font-size="7.4" text-anchor="middle">Train</text>
<text x="241.00" y="468.42" font-size="7.4" text-anchor="middle">validation</text>
<text x="266.60" y="468.42" font-size="7.4" text-anchor="middle">test</text>
<text x="290.20" y="293.80" font-size="9.8" fill="#000" font-weight="bold">e</text>
<text x="300.50" y="303.46" font-size="7.25">Cross-validation on the test set</text>
<path d="M317.3,322.0 L317.3,457.3 L357.5,457.3" fill="none" stroke="#555" stroke-width="0.6" />
<line x1="315.40" y1="324.00" x2="317.30" y2="324.00" stroke="#555" stroke-width="0.6"/>
<text x="312.90" y="326.68" font-size="6.4" text-anchor="end">1.00</text>
<line x1="315.40" y1="357.32" x2="317.30" y2="357.32" stroke="#555" stroke-width="0.6"/>
<text x="312.90" y="360.00" font-size="6.4" text-anchor="end">0.75</text>
<line x1="315.40" y1="390.65" x2="317.30" y2="390.65" stroke="#555" stroke-width="0.6"/>
<text x="312.90" y="393.33" font-size="6.4" text-anchor="end">0.50</text>
<line x1="315.40" y1="423.98" x2="317.30" y2="423.98" stroke="#555" stroke-width="0.6"/>
<text x="312.90" y="426.65" font-size="6.4" text-anchor="end">0.25</text>
<line x1="315.40" y1="457.30" x2="317.30" y2="457.30" stroke="#555" stroke-width="0.6"/>
<text x="312.90" y="459.98" font-size="6.4" text-anchor="end">0</text>
<line x1="330.00" y1="457.30" x2="330.00" y2="459.20" stroke="#555" stroke-width="0.6"/>
<line x1="351.00" y1="457.30" x2="351.00" y2="459.20" stroke="#555" stroke-width="0.6"/>
<text x="296.20" y="390.30" font-size="7.2" text-anchor="middle" transform="rotate(-90 296.20 390.30)">Correlation coefficient</text>
<rect x="323.20" y="353.40" width="13.60" height="3.60" fill="#f4f4f4" stroke="#555" stroke-width="0.4"/>
<line x1="323.20" y1="355.50" x2="336.80" y2="355.50" stroke="#333" stroke-width="0.5"/>
<line x1="330.00" y1="352.20" x2="330.00" y2="353.40" stroke="#666" stroke-width="0.35"/>
<line x1="330.00" y1="357.00" x2="330.00" y2="358.40" stroke="#666" stroke-width="0.35"/>
<circle cx="331.34" cy="356.60" r="0.35" fill="#777"/>
<circle cx="333.21" cy="357.61" r="0.35" fill="#777"/>
<circle cx="332.61" cy="357.51" r="0.35" fill="#777"/>
<circle cx="324.88" cy="355.21" r="0.35" fill="#777"/>
<circle cx="334.82" cy="356.13" r="0.35" fill="#777"/>
<circle cx="334.36" cy="353.43" r="0.35" fill="#777"/>
<circle cx="329.66" cy="354.10" r="0.35" fill="#777"/>
<circle cx="330.48" cy="355.75" r="0.35" fill="#777"/>
<circle cx="324.70" cy="353.95" r="0.35" fill="#777"/>
<text x="330.00" y="344.70" font-size="5.0" text-anchor="middle" fill="#444">Median:</text>
<text x="330.00" y="350.20" font-size="5.0" text-anchor="middle" fill="#444">0.770</text>
<rect x="344.00" y="340.30" width="13.00" height="3.40" fill="#f4f4f4" stroke="#555" stroke-width="0.4"/>
<line x1="344.00" y1="342.30" x2="357.00" y2="342.30" stroke="#333" stroke-width="0.5"/>
<line x1="350.50" y1="339.10" x2="350.50" y2="340.30" stroke="#666" stroke-width="0.35"/>
<line x1="350.50" y1="343.70" x2="350.50" y2="345.10" stroke="#666" stroke-width="0.35"/>
<circle cx="348.21" cy="344.15" r="0.35" fill="#777"/>
<circle cx="353.26" cy="340.55" r="0.35" fill="#777"/>
<circle cx="353.59" cy="340.45" r="0.35" fill="#777"/>
<circle cx="351.72" cy="340.39" r="0.35" fill="#777"/>
<circle cx="345.32" cy="343.94" r="0.35" fill="#777"/>
<circle cx="347.48" cy="340.82" r="0.35" fill="#777"/>
<circle cx="355.52" cy="343.94" r="0.35" fill="#777"/>
<circle cx="348.31" cy="344.37" r="0.35" fill="#777"/>
<circle cx="350.91" cy="343.02" r="0.35" fill="#777"/>
<text x="350.50" y="331.20" font-size="5.0" text-anchor="middle" fill="#444">Median:</text>
<text x="350.50" y="336.70" font-size="5.0" text-anchor="middle" fill="#444">0.868</text>
<text x="329.80" y="466.91" font-size="6.2" text-anchor="middle">PCC</text>
<text x="352.20" y="466.91" font-size="6.2" text-anchor="middle">SCC</text>
<path d="M393.0,321.2 L393.0,456.7 L420.5,456.7" fill="none" stroke="#555" stroke-width="0.6" />
<line x1="391.10" y1="323.40" x2="393.00" y2="323.40" stroke="#555" stroke-width="0.6"/>
<text x="388.60" y="326.08" font-size="6.4" text-anchor="end">1.00</text>
<line x1="391.10" y1="356.72" x2="393.00" y2="356.72" stroke="#555" stroke-width="0.6"/>
<text x="388.60" y="359.40" font-size="6.4" text-anchor="end">0.75</text>
<line x1="391.10" y1="390.05" x2="393.00" y2="390.05" stroke="#555" stroke-width="0.6"/>
<text x="388.60" y="392.73" font-size="6.4" text-anchor="end">0.50</text>
<line x1="391.10" y1="423.38" x2="393.00" y2="423.38" stroke="#555" stroke-width="0.6"/>
<text x="388.60" y="426.05" font-size="6.4" text-anchor="end">0.25</text>
<line x1="391.10" y1="456.70" x2="393.00" y2="456.70" stroke="#555" stroke-width="0.6"/>
<text x="388.60" y="459.38" font-size="6.4" text-anchor="end">0</text>
<line x1="405.30" y1="456.70" x2="405.30" y2="458.60" stroke="#555" stroke-width="0.6"/>
<text x="372.20" y="390.30" font-size="6.8" text-anchor="middle" transform="rotate(-90 372.20 390.30)">MSE</text>
<rect x="400.10" y="446.10" width="10.40" height="1.80" fill="#f4f4f4" stroke="#555" stroke-width="0.4"/>
<line x1="400.10" y1="447.30" x2="410.50" y2="447.30" stroke="#333" stroke-width="0.5"/>
<line x1="405.30" y1="444.90" x2="405.30" y2="446.10" stroke="#666" stroke-width="0.35"/>
<line x1="405.30" y1="447.90" x2="405.30" y2="449.30" stroke="#666" stroke-width="0.35"/>
<circle cx="402.84" cy="448.20" r="0.35" fill="#777"/>
<circle cx="406.89" cy="448.27" r="0.35" fill="#777"/>
<circle cx="408.58" cy="446.58" r="0.35" fill="#777"/>
<circle cx="404.15" cy="446.25" r="0.35" fill="#777"/>
<circle cx="402.35" cy="445.99" r="0.35" fill="#777"/>
<circle cx="403.65" cy="447.35" r="0.35" fill="#777"/>
<circle cx="401.17" cy="447.54" r="0.35" fill="#777"/>
<circle cx="403.95" cy="446.61" r="0.35" fill="#777"/>
<circle cx="407.95" cy="447.04" r="0.35" fill="#777"/>
<text x="405.30" y="436.00" font-size="5.0" text-anchor="middle" fill="#444">Median:</text>
<text x="405.30" y="441.40" font-size="5.0" text-anchor="middle" fill="#444">0.068</text>
<text x="405.40" y="466.91" font-size="6.2" text-anchor="middle">Loss</text>
<text x="371.80" y="476.75" font-size="6.9" text-anchor="middle">Evaluation metric</text>
<text x="424.60" y="293.60" font-size="9.8" fill="#000" font-weight="bold">f</text>
<text x="488.30" y="295.73" font-size="7.45" text-anchor="middle">Enrichments of observed/predicted</text>
<text x="488.30" y="304.18" font-size="7.3" text-anchor="middle">signals in different gene regions</text>
<rect x="449.10" y="323.60" width="21.00" height="20.30" fill="#e6b497"/>
<rect x="470.00" y="323.60" width="20.90" height="20.30" fill="#6f99bc"/>
<rect x="490.80" y="323.60" width="21.30" height="20.30" fill="#7aa0bd"/>
<rect x="449.10" y="343.80" width="21.00" height="20.30" fill="#3f78ad"/>
<rect x="470.00" y="343.80" width="20.90" height="20.30" fill="#5083b3"/>
<rect x="490.80" y="343.80" width="21.30" height="20.30" fill="#4a7fb0"/>
<rect x="449.10" y="364.00" width="21.00" height="20.30" fill="#90abbf"/>
<rect x="470.00" y="364.00" width="20.90" height="20.30" fill="#f0d3b7"/>
<rect x="490.80" y="364.00" width="21.30" height="20.30" fill="#f6e4cb"/>
<rect x="449.10" y="384.20" width="21.00" height="20.30" fill="#f6e5c9"/>
<rect x="470.00" y="384.20" width="20.90" height="20.30" fill="#cf573a"/>
<rect x="490.80" y="384.20" width="21.30" height="20.30" fill="#d66a48"/>
<rect x="449.10" y="404.40" width="21.00" height="20.30" fill="#de8c6d"/>
<rect x="470.00" y="404.40" width="20.90" height="20.30" fill="#e5a98b"/>
<rect x="490.80" y="404.40" width="21.30" height="20.30" fill="#de8e70"/>
<rect x="449.10" y="424.60" width="21.00" height="20.40" fill="#d3603e"/>
<rect x="470.00" y="424.60" width="20.90" height="20.40" fill="#e6ad90"/>
<rect x="490.80" y="424.60" width="21.30" height="20.40" fill="#e19d80"/>
<path d="M459.6,323.6 L459.6,315.7 L490.8,315.7 L490.8,321.0 M480.3,323.6 L480.3,321.0 L501.5,321.0 L501.5,323.6" fill="none" stroke="#444" stroke-width="0.5" />
<path d="M449.1,333.7 L442.8,333.7 L442.8,353.9 L449.1,353.9 M449.1,414.5 L446.9,414.5 L446.9,434.8 L449.1,434.8 M449.1,394.3 L444.8,394.3 L444.8,424.6 L446.9,424.6 M449.1,374.1 L442.8,374.1 L442.8,409.5 L444.8,409.5 M442.8,343.8 L437.3,343.8 L437.3,391.8 L442.8,391.8" fill="none" stroke="#444" stroke-width="0.5" />
<text x="514.80" y="334.96" font-size="6.35">3' UTR</text>
<text x="514.80" y="355.16" font-size="6.35">Intron</text>
<text x="514.80" y="375.36" font-size="6.35">5' UTR</text>
<text x="514.80" y="395.56" font-size="6.35">Start codon</text>
<text x="514.80" y="415.76" font-size="6.35">CDS</text>
<text x="514.80" y="436.01" font-size="6.35">Stop codon</text>
<text x="459.50" y="451.10" font-size="6.0" text-anchor="end" transform="rotate(-45 459.50 451.10)">Observed</text>
<text x="464.10" y="456.40" font-size="6.0" text-anchor="end" transform="rotate(-45 464.10 456.40)">RNA-seq</text>
<text x="483.20" y="451.10" font-size="6.0" text-anchor="end" transform="rotate(-45 483.20 451.10)">Observed</text>
<text x="487.10" y="455.90" font-size="6.0" text-anchor="end" transform="rotate(-45 487.10 455.90)">Ribo-seq</text>
<text x="506.70" y="451.10" font-size="6.0" text-anchor="end" transform="rotate(-45 506.70 451.10)">Predicted</text>
<text x="510.80" y="455.90" font-size="6.0" text-anchor="end" transform="rotate(-45 510.80 455.90)">Ribo-seq</text>
<text x="531.40" y="452.07" font-size="6.1" text-anchor="middle">Scaled</text>
<text x="516.00" y="458.27" font-size="6.1">enrichment</text>
<defs><linearGradient id="cbar" x1="0" x2="1" y1="0" y2="0"><stop offset="0" stop-color="#3f78ad"/><stop offset="0.25" stop-color="#8fb0c8"/><stop offset="0.5" stop-color="#f6ead2"/><stop offset="0.75" stop-color="#e19d80"/><stop offset="1" stop-color="#cf573a"/></linearGradient></defs>
<rect x="519.80" y="460.80" width="23.40" height="6.00" fill="url(#cbar)"/>
<text x="515.70" y="473.74" font-size="5.7" textLength="10.00" lengthAdjust="spacingAndGlyphs">−1.5</text>
<text x="531.50" y="473.74" font-size="5.7" text-anchor="middle">0</text>
<text x="539.20" y="473.74" font-size="5.7" textLength="6.20" lengthAdjust="spacingAndGlyphs">1.5</text>
<text x="2.20" y="489.00" font-size="9.8" fill="#000" font-weight="bold">g</text>
<text x="134.10" y="504.68" font-size="7.3" text-anchor="middle">Performance comparison between models with and</text>
<text x="134.10" y="513.18" font-size="7.3" text-anchor="middle">without sequence information as input</text>
<path d="M93.5,524.8 L93.5,577.5 L211.0,577.5" fill="none" stroke="#888" stroke-width="0.6" />
<line x1="102.40" y1="577.50" x2="102.40" y2="579.40" stroke="#888" stroke-width="0.6"/>
<text x="102.40" y="587.31" font-size="6.2" text-anchor="middle">0.5</text>
<line x1="132.00" y1="577.50" x2="132.00" y2="579.40" stroke="#888" stroke-width="0.6"/>
<text x="132.00" y="587.31" font-size="6.2" text-anchor="middle">0.6</text>
<line x1="161.30" y1="577.50" x2="161.30" y2="579.40" stroke="#888" stroke-width="0.6"/>
<text x="161.30" y="587.31" font-size="6.2" text-anchor="middle">0.7</text>
<line x1="190.90" y1="577.50" x2="190.90" y2="579.40" stroke="#888" stroke-width="0.6"/>
<text x="190.90" y="587.31" font-size="6.2" text-anchor="middle">0.8</text>
<line x1="91.60" y1="540.30" x2="93.50" y2="540.30" stroke="#888" stroke-width="0.6"/>
<line x1="91.60" y1="561.40" x2="93.50" y2="561.40" stroke="#888" stroke-width="0.6"/>
<line x1="147.10" y1="540.30" x2="195.80" y2="540.30" stroke="#444" stroke-width="0.5"/>
<rect x="163.90" y="534.10" width="13.80" height="12.40" fill="#4267b1" stroke="#444" stroke-width="0.4"/>
<line x1="171.10" y1="534.10" x2="171.10" y2="546.50" stroke="#222" stroke-width="0.8"/>
<circle cx="114.60" cy="540.30" r="0.75" fill="#4267b1"/>
<circle cx="138.20" cy="540.30" r="0.75" fill="#4267b1"/>
<circle cx="206.00" cy="540.30" r="0.75" fill="#4267b1"/>
<line x1="131.30" y1="561.80" x2="186.00" y2="561.80" stroke="#444" stroke-width="0.5"/>
<rect x="149.10" y="555.40" width="21.40" height="12.80" fill="#d5694b" stroke="#444" stroke-width="0.4"/>
<line x1="160.60" y1="555.40" x2="160.60" y2="568.20" stroke="#222" stroke-width="0.8"/>
<circle cx="99.10" cy="561.80" r="0.75" fill="#d5694b"/>
<text x="152.40" y="598.61" font-size="6.8" text-anchor="middle">PCC</text>
<line x1="215.20" y1="540.30" x2="215.20" y2="561.70" stroke="#333" stroke-width="0.6"/>
<text x="217.50" y="554.24" font-size="6.0" font-style="italic">P</text>
<text x="223.20" y="554.24" font-size="6.0">= 0.006</text>
<text x="88.20" y="540.58" font-size="7.0" text-anchor="end">RNA-seq + gene sequence</text>
<text x="88.40" y="548.60" font-size="7.35" text-anchor="end">(with sequence)</text>
<text x="88.20" y="561.18" font-size="7.0" text-anchor="end">RNA-seq only</text>
<text x="88.40" y="568.80" font-size="7.35" text-anchor="end">(without sequence)</text>
<path d="M92.5,604.9 L92.5,654.9 L216.6,654.9" fill="none" stroke="#888" stroke-width="0.6" />
<line x1="129.40" y1="654.90" x2="129.40" y2="656.80" stroke="#888" stroke-width="0.6"/>
<text x="129.40" y="665.31" font-size="6.2" text-anchor="middle">0.1</text>
<line x1="172.80" y1="654.90" x2="172.80" y2="656.80" stroke="#888" stroke-width="0.6"/>
<text x="172.80" y="665.31" font-size="6.2" text-anchor="middle">0.2</text>
<line x1="215.90" y1="654.90" x2="215.90" y2="656.80" stroke="#888" stroke-width="0.6"/>
<text x="215.90" y="665.31" font-size="6.2" text-anchor="middle">0.3</text>
<line x1="90.60" y1="618.40" x2="92.50" y2="618.40" stroke="#888" stroke-width="0.6"/>
<line x1="90.60" y1="638.40" x2="92.50" y2="638.40" stroke="#888" stroke-width="0.6"/>
<line x1="98.10" y1="618.50" x2="148.10" y2="618.50" stroke="#444" stroke-width="0.5"/>
<rect x="106.30" y="611.80" width="18.80" height="13.40" fill="#4267b1" stroke="#444" stroke-width="0.4"/>
<line x1="117.80" y1="611.80" x2="117.80" y2="625.20" stroke="#222" stroke-width="0.8"/>
<circle cx="154.40" cy="618.50" r="0.75" fill="#4267b1"/>
<circle cx="181.30" cy="618.50" r="0.75" fill="#4267b1"/>
<line x1="100.40" y1="638.40" x2="161.30" y2="638.40" stroke="#444" stroke-width="0.5"/>
<rect x="113.60" y="631.80" width="20.00" height="13.20" fill="#d5694b" stroke="#444" stroke-width="0.4"/>
<line x1="123.80" y1="631.80" x2="123.80" y2="645.00" stroke="#222" stroke-width="0.8"/>
<circle cx="175.40" cy="638.40" r="0.75" fill="#d5694b"/>
<circle cx="191.20" cy="638.40" r="0.75" fill="#d5694b"/>
<circle cx="206.70" cy="638.40" r="0.75" fill="#d5694b"/>
<text x="155.70" y="675.41" font-size="6.8" text-anchor="middle">MSE loss</text>
<line x1="216.40" y1="618.00" x2="216.40" y2="638.80" stroke="#333" stroke-width="0.6"/>
<text x="218.90" y="631.04" font-size="6.0" font-style="italic">P</text>
<text x="224.60" y="631.04" font-size="6.0">= 0.042</text>
<text x="88.20" y="618.38" font-size="7.0" text-anchor="end">RNA-seq + gene sequence</text>
<text x="88.40" y="626.10" font-size="7.35" text-anchor="end">(with sequence)</text>
<text x="88.20" y="639.28" font-size="7.0" text-anchor="end">RNA-seq only</text>
<text x="88.40" y="647.10" font-size="7.35" text-anchor="end">(without sequence)</text>
<text x="260.40" y="488.20" font-size="9.8" fill="#000" font-weight="bold">h</text>
<path d="M297.4,512.6 L297.4,512.3 L297.8,512.3 L298.2,512.3 L298.6,512.1 L299.0,512.0 L299.4,512.0 L299.8,512.1 L300.2,512.3 L300.6,508.3 L301.0,507.8 L301.4,508.3 L301.8,511.6 L302.2,508.8 L302.6,508.8 L303.0,507.6 L303.4,507.6 L303.8,511.8 L304.2,512.0 L304.6,512.3 L305.0,512.3 L305.4,512.3 L305.8,512.3 L306.2,512.3 L306.6,512.3 L307.0,512.3 L307.4,512.3 L307.8,512.3 L308.2,512.3 L308.6,510.3 L309.0,509.3 L309.4,510.3 L309.8,512.3 L310.2,512.0 L310.6,511.8 L311.0,511.8 L311.4,511.8 L311.8,512.2 L312.2,512.3 L312.6,512.3 L313.0,512.3 L313.4,509.0 L313.8,507.3 L314.2,509.0 L314.6,511.7 L315.0,511.7 L315.4,512.1 L315.8,511.5 L316.2,511.4 L316.6,511.4 L317.0,511.8 L317.4,512.3 L317.8,512.3 L318.2,512.3 L318.6,512.3 L319.0,512.3 L319.4,512.3 L319.8,512.3 L320.2,512.3 L320.6,512.3 L321.0,512.3 L321.4,512.1 L321.8,510.3 L322.2,510.3 L322.6,512.1 L323.0,511.6 L323.4,511.5 L323.8,511.5 L324.2,511.9 L324.6,512.3 L325.0,512.3 L325.4,512.3 L325.8,504.9 L326.2,499.3 L326.6,499.3 L327.0,504.9 L327.4,512.3 L327.8,512.3 L328.2,512.3 L328.6,512.3 L329.0,512.3 L329.4,512.3 L329.8,502.5 L330.2,495.0 L330.6,495.0 L331.0,502.5 L331.4,507.3 L331.8,507.3 L332.2,511.7 L332.6,512.3 L333.0,512.3 L333.4,512.3 L333.8,512.3 L334.2,512.3 L334.6,510.7 L335.0,508.3 L335.4,508.5 L335.8,512.3 L336.2,512.2 L336.6,511.8 L337.0,511.1 L337.4,509.3 L337.8,509.5 L338.2,511.4 L338.6,512.3 L339.0,511.9 L339.4,511.3 L339.8,511.3 L340.2,509.0 L340.6,507.3 L341.0,509.0 L341.4,512.3 L341.8,512.3 L342.2,512.3 L342.6,512.3 L343.0,510.7 L343.4,508.3 L343.8,508.5 L344.2,511.9 L344.6,509.5 L345.0,495.5 L345.4,495.0 L345.8,495.5 L346.2,509.5 L346.6,508.3 L347.0,509.6 L347.4,511.6 L347.8,512.2 L348.2,512.3 L348.6,511.5 L349.0,511.7 L349.4,510.4 L349.8,507.3 L350.2,507.6 L350.6,511.9 L351.0,511.7 L351.4,511.7 L351.8,511.7 L352.2,511.9 L352.6,511.9 L353.0,512.1 L353.4,512.3 L353.8,512.3 L354.2,512.3 L354.6,512.0 L355.0,511.8 L355.4,512.0 L355.8,512.3 L356.2,512.3 L356.6,511.3 L357.0,511.3 L357.4,512.3 L357.8,512.2 L358.2,511.9 L358.6,511.9 L359.0,504.1 L359.4,497.8 L359.8,497.8 L360.2,504.1 L360.6,508.3 L361.0,508.3 L361.4,511.3 L361.8,511.8 L362.2,511.8 L362.6,511.8 L363.0,512.2 L363.4,512.3 L363.8,511.8 L364.2,511.8 L364.6,512.3 L365.0,512.3 L365.4,512.1 L365.8,510.3 L366.2,510.3 L366.6,512.1 L367.0,512.3 L367.4,512.3 L367.8,512.3 L368.2,512.3 L368.6,512.3 L369.0,512.3 L369.4,512.3 L369.8,512.3 L370.2,512.1 L370.6,510.3 L371.0,510.3 L371.4,512.1 L371.8,511.6 L372.2,511.6 L372.6,511.7 L373.0,511.7 L373.4,511.7 L373.8,511.6 L374.2,511.6 L374.6,512.2 L375.0,512.3 L375.4,511.4 L375.8,511.3 L376.2,511.9 L376.6,512.3 L377.0,512.3 L377.4,512.3 L377.8,508.1 L378.2,502.8 L378.6,502.8 L379.0,508.1 L379.4,512.1 L379.8,511.7 L380.2,511.6 L380.6,511.7 L381.0,511.1 L381.4,509.3 L381.8,509.5 L382.2,512.3 L382.6,512.3 L383.0,512.3 L383.4,511.9 L383.8,511.7 L384.2,511.9 L384.6,512.3 L385.0,512.3 L385.4,512.3 L385.8,512.3 L386.2,512.3 L386.6,512.3 L387.0,510.0 L387.4,508.8 L387.8,510.0 L388.2,509.6 L388.6,508.3 L389.0,509.6 L389.4,510.3 L389.8,509.3 L390.2,510.3 L390.6,512.0 L391.0,512.0 L391.4,511.9 L391.8,510.3 L392.2,509.3 L392.6,510.3 L393.0,511.6 L393.4,512.3 L393.8,512.3 L394.2,512.3 L394.6,512.3 L395.0,512.3 L395.4,509.9 L395.8,509.8 L396.2,511.3 L396.6,512.3 L397.0,511.3 L397.4,509.8 L397.8,509.9 L398.2,512.3 L398.6,511.9 L399.0,509.9 L399.4,509.8 L399.8,511.3 L400.2,512.0 L400.6,512.1 L401.0,512.3 L401.4,509.5 L401.8,509.3 L402.2,511.1 L402.6,512.3 L403.0,512.3 L403.4,512.3 L403.8,512.3 L404.2,511.3 L404.6,511.3 L405.0,511.8 L405.4,511.6 L405.8,511.6 L406.2,510.3 L406.6,510.3 L407.0,511.7 L407.4,511.7 L407.8,512.1 L408.2,512.3 L408.6,512.0 L409.0,511.6 L409.4,511.8 L409.8,511.8 L410.2,511.8 L410.6,511.5 L411.0,511.5 L411.4,512.3 L411.8,512.3 L412.2,512.3 L412.6,512.3 L413.0,512.2 L413.4,511.1 L413.8,511.1 L414.2,512.2 L414.6,512.3 L415.0,512.3 L415.4,512.1 L415.8,510.8 L416.2,510.8 L416.6,512.1 L417.0,512.3 L417.4,512.3 L417.8,512.3 L418.2,512.3 L418.6,512.3 L419.0,512.3 L419.4,512.3 L419.8,512.2 L420.2,511.7 L420.6,511.6 L421.0,511.6 L421.4,511.9 L421.8,512.3 L422.2,512.3 L422.6,512.3 L423.0,512.3 L423.4,512.1 L423.8,510.3 L424.2,510.3 L424.6,512.1 L425.0,512.3 L425.4,512.1 L425.8,510.8 L426.2,510.8 L426.6,511.9 L427.0,512.3 L427.4,512.1 L427.8,510.3 L428.2,510.3 L428.6,512.1 L429.0,512.3 L429.4,512.3 L429.8,512.3 L430.2,512.0 L430.6,511.9 L431.0,511.9 L431.4,511.8 L431.8,511.8 L432.2,511.3 L432.6,510.8 L433.0,511.3 L433.4,512.3 L433.8,512.3 L434.2,512.1 L434.6,511.8 L435.0,511.8 L435.4,511.8 L435.8,510.8 L436.2,510.8 L436.6,511.4 L437.0,511.4 L437.4,511.4 L437.8,510.3 L438.2,510.3 L438.6,511.9 L439.0,511.9 L439.4,512.0 L439.8,509.8 L440.2,509.8 L440.6,512.0 L441.0,512.3 L441.4,512.1 L441.8,510.3 L442.2,510.3 L442.6,511.8 L443.0,511.7 L443.4,511.7 L443.8,509.8 L444.2,509.8 L444.6,511.7 L445.0,511.7 L445.4,510.3 L445.8,510.3 L446.2,511.4 L446.6,512.1 L447.0,506.6 L447.4,503.8 L447.8,503.8 L448.2,510.4 L448.6,512.3 L449.0,512.3 L449.4,512.3 L449.8,512.3 L450.2,512.3 L450.6,512.3 L451.0,511.9 L451.4,511.7 L451.8,512.3 L452.2,512.3 L452.6,512.3 L453.0,512.3 L453.4,512.0 L453.8,511.7 L454.2,511.7 L454.6,512.0 L455.0,505.8 L455.4,494.1 L455.8,493.8 L456.2,493.8 L456.6,500.0 L457.0,499.5 L457.4,497.3 L457.8,497.3 L458.2,505.1 L458.6,508.7 L459.0,504.3 L459.4,504.3 L459.8,508.7 L460.2,511.5 L460.6,511.5 L461.0,512.0 L461.4,512.3 L461.8,512.3 L462.2,511.3 L462.6,501.8 L463.0,498.3 L463.4,498.3 L463.8,501.8 L464.2,511.3 L464.6,511.1 L465.0,509.3 L465.4,509.5 L465.8,512.2 L466.2,511.7 L466.6,510.1 L467.0,509.8 L467.4,510.1 L467.8,512.3 L468.2,511.2 L468.6,509.8 L469.0,509.8 L469.4,511.2 L469.8,511.3 L470.2,511.0 L470.6,510.3 L471.0,511.0 L471.4,512.3 L471.8,512.3 L472.2,512.3 L472.6,512.3 L473.0,512.0 L473.4,511.4 L473.8,511.4 L474.2,511.4 L474.6,511.5 L475.0,511.5 L475.4,511.5 L475.8,511.5 L476.2,512.3 L476.6,512.3 L477.0,512.3 L477.4,510.4 L477.8,510.3 L478.2,511.5 L478.6,511.6 L479.0,511.3 L479.4,510.8 L479.8,510.9 L480.2,511.7 L480.6,511.8 L481.0,510.4 L481.4,510.3 L481.8,511.5 L482.2,512.3 L482.6,512.3 L483.0,512.1 L483.4,507.3 L483.8,507.3 L484.2,509.6 L484.6,511.9 L485.0,511.9 L485.4,512.0 L485.8,511.7 L486.2,511.5 L486.6,511.5 L487.0,511.7 L487.4,512.3 L487.8,512.3 L488.2,512.3 L488.6,512.3 L489.0,512.3 L489.4,512.3 L489.8,507.0 L490.2,504.3 L490.6,504.3 L491.0,510.5 L491.4,512.1 L491.8,510.3 L492.2,510.3 L492.6,512.1 L493.0,512.1 L493.4,512.2 L493.8,512.3 L494.2,512.3 L494.6,512.3 L495.0,510.5 L495.4,508.3 L495.8,508.3 L496.2,510.5 L496.6,511.3 L497.0,507.8 L497.4,507.8 L497.8,509.3 L498.2,512.3 L498.6,510.0 L499.0,508.8 L499.4,508.8 L499.8,511.5 L500.2,512.3 L500.6,512.3 L501.0,511.1 L501.4,509.3 L501.8,509.5 L502.2,511.9 L502.6,512.3 L503.0,512.3 L503.4,509.0 L503.8,507.3 L504.2,507.3 L504.6,511.2 L505.0,510.5 L505.4,501.6 L505.8,501.3 L506.2,501.6 L506.6,510.5 L507.0,506.1 L507.4,505.3 L507.8,506.1 L508.2,504.3 L508.6,503.3 L509.0,504.3 L509.4,509.6 L509.8,508.3 L510.2,509.6 L510.4,512.6 Z" fill="#1f8a5a" />
<line x1="297.40" y1="512.30" x2="510.40" y2="512.30" stroke="#1f8a5a" stroke-width="0.7"/>
<line x1="431.30" y1="512.60" x2="431.30" y2="514.10" stroke="#777" stroke-width="0.4"/>
<line x1="463.80" y1="512.60" x2="463.80" y2="514.10" stroke="#777" stroke-width="0.4"/>
<line x1="496.30" y1="512.60" x2="496.30" y2="514.10" stroke="#777" stroke-width="0.4"/>
<path d="M293.3,493.8 L294.7,493.8 L294.7,512.3 L293.3,512.3" fill="none" stroke="#555" stroke-width="0.5" />
<text x="291.60" y="496.58" font-size="6.4" text-anchor="end">2</text>
<text x="291.60" y="514.58" font-size="6.4" text-anchor="end">0</text>
<text x="296.10" y="491.21" font-size="7.1">Observed Ribo-seq</text>
<path d="M297.4,548.4 L297.4,542.7 L297.8,536.0 L298.2,536.0 L298.6,536.0 L299.0,533.0 L299.4,533.0 L299.8,533.0 L300.2,535.0 L300.6,535.0 L301.0,535.0 L301.4,531.0 L301.8,531.0 L302.2,531.0 L302.6,533.0 L303.0,533.0 L303.4,533.0 L303.8,529.5 L304.2,529.5 L304.6,529.5 L305.0,532.0 L305.4,532.0 L305.8,532.0 L306.2,531.0 L306.6,531.0 L307.0,531.0 L307.4,536.0 L307.8,536.0 L308.2,536.0 L308.6,542.7 L309.0,543.0 L309.4,543.0 L309.8,543.0 L310.2,545.8 L310.6,544.0 L311.0,544.0 L311.4,544.0 L311.8,545.8 L312.2,543.0 L312.6,543.0 L313.0,543.0 L313.4,545.8 L313.8,548.0 L314.2,548.0 L314.6,546.0 L315.0,546.0 L315.4,546.0 L315.8,546.5 L316.2,546.5 L316.6,546.5 L317.0,547.3 L317.4,548.0 L317.8,542.2 L318.2,540.0 L318.6,540.0 L319.0,540.0 L319.4,546.7 L319.8,546.9 L320.2,546.9 L320.6,547.3 L321.0,547.3 L321.4,541.0 L321.8,541.0 L322.2,541.0 L322.6,541.0 L323.0,539.0 L323.4,539.0 L323.8,539.0 L324.2,539.0 L324.6,543.3 L325.0,541.0 L325.4,541.0 L325.8,535.0 L326.2,535.0 L326.6,535.0 L327.0,535.0 L327.4,544.0 L327.8,542.0 L328.2,542.0 L328.6,544.0 L329.0,548.0 L329.4,547.4 L329.8,538.0 L330.2,538.0 L330.6,538.0 L331.0,538.0 L331.4,545.6 L331.8,533.5 L332.2,533.5 L332.6,533.5 L333.0,537.5 L333.4,543.0 L333.8,543.0 L334.2,543.0 L334.6,543.0 L335.0,545.8 L335.4,543.0 L335.8,543.0 L336.2,543.0 L336.6,545.8 L337.0,544.0 L337.4,544.0 L337.8,544.0 L338.2,546.7 L338.6,547.5 L339.0,547.2 L339.4,540.0 L339.8,540.0 L340.2,540.0 L340.6,540.0 L341.0,543.6 L341.4,538.0 L341.8,538.0 L342.2,538.0 L342.6,543.6 L343.0,540.0 L343.4,540.0 L343.8,540.0 L344.2,542.2 L344.6,541.8 L345.0,534.0 L345.4,534.0 L345.8,534.0 L346.2,541.8 L346.6,542.0 L347.0,542.0 L347.4,542.0 L347.8,548.0 L348.2,546.5 L348.6,546.4 L349.0,546.4 L349.4,547.2 L349.8,545.8 L350.2,543.0 L350.6,543.0 L351.0,543.0 L351.4,544.9 L351.8,541.0 L352.2,541.0 L352.6,541.0 L353.0,544.9 L353.4,543.0 L353.8,543.0 L354.2,543.0 L354.6,545.3 L355.0,542.0 L355.4,542.0 L355.8,542.0 L356.2,545.3 L356.6,545.0 L357.0,545.0 L357.4,546.5 L357.8,546.5 L358.2,546.5 L358.6,548.0 L359.0,540.0 L359.4,540.0 L359.8,540.0 L360.2,540.0 L360.6,547.6 L361.0,548.0 L361.4,548.0 L361.8,548.0 L362.2,548.0 L362.6,548.0 L363.0,548.0 L363.4,546.8 L363.8,546.8 L364.2,546.8 L364.6,546.8 L365.0,548.0 L365.4,540.0 L365.8,540.0 L366.2,540.0 L366.6,540.0 L367.0,541.0 L367.4,541.0 L367.8,543.3 L368.2,548.0 L368.6,546.9 L369.0,543.0 L369.4,543.0 L369.8,543.0 L370.2,543.0 L370.6,544.9 L371.0,541.0 L371.4,541.0 L371.8,541.0 L372.2,544.9 L372.6,542.0 L373.0,542.0 L373.4,542.0 L373.8,542.0 L374.2,545.3 L374.6,544.0 L375.0,544.0 L375.4,545.3 L375.8,541.0 L376.2,541.0 L376.6,541.0 L377.0,541.0 L377.4,542.0 L377.8,542.0 L378.2,542.0 L378.6,542.0 L379.0,543.0 L379.4,543.0 L379.8,543.0 L380.2,543.0 L380.6,545.3 L381.0,542.0 L381.4,542.0 L381.8,542.0 L382.2,545.3 L382.6,543.0 L383.0,543.0 L383.4,543.0 L383.8,543.0 L384.2,545.3 L384.6,542.0 L385.0,542.0 L385.4,542.0 L385.8,545.3 L386.2,545.8 L386.6,543.0 L387.0,543.0 L387.4,543.0 L387.8,545.8 L388.2,546.9 L388.6,546.9 L389.0,545.3 L389.4,542.0 L389.8,542.0 L390.2,542.0 L390.6,545.3 L391.0,542.0 L391.4,542.0 L391.8,542.0 L392.2,542.0 L392.6,546.6 L393.0,546.6 L393.4,546.0 L393.8,545.0 L394.2,545.0 L394.6,546.0 L395.0,547.4 L395.4,547.4 L395.8,547.4 L396.2,547.8 L396.6,547.8 L397.0,547.6 L397.4,547.6 L397.8,547.6 L398.2,548.0 L398.6,548.0 L399.0,548.0 L399.4,546.6 L399.8,546.6 L400.2,546.6 L400.6,546.6 L401.0,546.6 L401.4,546.6 L401.8,546.6 L402.2,543.7 L402.6,542.0 L403.0,542.0 L403.4,542.0 L403.8,546.6 L404.2,547.1 L404.6,547.1 L405.0,547.3 L405.4,548.0 L405.8,544.0 L406.2,544.0 L406.6,544.0 L407.0,544.0 L407.4,546.2 L407.8,544.0 L408.2,544.0 L408.6,544.0 L409.0,546.2 L409.4,546.8 L409.8,547.4 L410.2,546.7 L410.6,543.0 L411.0,543.0 L411.4,543.0 L411.8,543.0 L412.2,542.0 L412.6,542.0 L413.0,542.0 L413.4,542.0 L413.8,547.1 L414.2,546.5 L414.6,546.5 L415.0,547.1 L415.4,543.0 L415.8,543.0 L416.2,543.0 L416.6,543.0 L417.0,545.3 L417.4,542.0 L417.8,542.0 L418.2,542.0 L418.6,545.3 L419.0,542.0 L419.4,542.0 L419.8,542.0 L420.2,543.7 L420.6,546.5 L421.0,546.5 L421.4,544.0 L421.8,544.0 L422.2,544.0 L422.6,545.1 L423.0,546.7 L423.4,546.5 L423.8,546.7 L424.2,548.0 L424.6,544.9 L425.0,541.0 L425.4,541.0 L425.8,541.0 L426.2,544.9 L426.6,543.0 L427.0,543.0 L427.4,543.0 L427.8,543.0 L428.2,544.4 L428.6,540.0 L429.0,540.0 L429.4,540.0 L429.8,544.4 L430.2,546.9 L430.6,548.0 L431.0,548.0 L431.4,548.0 L431.8,545.8 L432.2,543.0 L432.6,543.0 L433.0,543.0 L433.4,545.8 L433.8,546.9 L434.2,545.3 L434.6,542.0 L435.0,542.0 L435.4,542.0 L435.8,545.3 L436.2,543.0 L436.6,543.0 L437.0,543.0 L437.4,543.0 L437.8,546.5 L438.2,546.5 L438.6,548.0 L439.0,544.4 L439.4,543.0 L439.8,543.0 L440.2,543.0 L440.6,547.2 L441.0,544.0 L441.4,544.0 L441.8,544.0 L442.2,545.1 L442.6,543.7 L443.0,542.0 L443.4,542.0 L443.8,542.0 L444.2,547.0 L444.6,547.2 L445.0,541.0 L445.4,541.0 L445.8,541.0 L446.2,541.0 L446.6,544.4 L447.0,540.0 L447.4,540.0 L447.8,540.0 L448.2,544.4 L448.6,541.0 L449.0,541.0 L449.4,541.0 L449.8,541.0 L450.2,547.6 L450.6,548.0 L451.0,541.0 L451.4,541.0 L451.8,541.0 L452.2,541.0 L452.6,543.0 L453.0,543.0 L453.4,543.0 L453.8,546.5 L454.2,546.5 L454.6,546.5 L455.0,539.1 L455.4,531.0 L455.8,531.0 L456.2,531.0 L456.6,531.0 L457.0,531.5 L457.4,531.5 L457.8,531.5 L458.2,545.2 L458.6,548.0 L459.0,548.0 L459.4,548.0 L459.8,547.6 L460.2,547.0 L460.6,547.0 L461.0,547.7 L461.4,547.6 L461.8,539.3 L462.2,533.0 L462.6,533.0 L463.0,533.0 L463.4,533.0 L463.8,539.2 L464.2,544.0 L464.6,544.0 L465.0,544.0 L465.4,546.7 L465.8,545.3 L466.2,544.0 L466.6,544.0 L467.0,545.3 L467.4,548.0 L467.8,548.0 L468.2,548.0 L468.6,548.0 L469.0,548.0 L469.4,548.0 L469.8,548.0 L470.2,548.0 L470.6,543.7 L471.0,542.0 L471.4,542.0 L471.8,542.0 L472.2,543.0 L472.6,543.0 L473.0,543.0 L473.4,546.6 L473.8,547.5 L474.2,547.2 L474.6,547.2 L475.0,547.2 L475.4,547.5 L475.8,547.9 L476.2,547.2 L476.6,547.2 L477.0,542.2 L477.4,540.0 L477.8,540.0 L478.2,540.0 L478.6,546.7 L479.0,547.5 L479.4,544.4 L479.8,543.0 L480.2,543.0 L480.6,543.0 L481.0,547.0 L481.4,547.0 L481.8,542.9 L482.2,541.0 L482.6,541.0 L483.0,541.0 L483.4,544.4 L483.8,540.0 L484.2,540.0 L484.6,540.0 L485.0,544.4 L485.4,541.0 L485.8,541.0 L486.2,541.0 L486.6,541.0 L487.0,544.9 L487.4,541.0 L487.8,541.0 L488.2,541.0 L488.6,544.9 L489.0,546.9 L489.4,546.9 L489.8,547.0 L490.2,543.0 L490.6,543.0 L491.0,543.0 L491.4,543.0 L491.8,544.4 L492.2,540.0 L492.6,540.0 L493.0,540.0 L493.4,544.4 L493.8,542.0 L494.2,542.0 L494.6,542.0 L495.0,542.0 L495.4,547.5 L495.8,548.0 L496.2,548.0 L496.6,548.0 L497.0,548.0 L497.4,548.0 L497.8,548.0 L498.2,547.0 L498.6,542.0 L499.0,542.0 L499.4,542.0 L499.8,543.7 L500.2,542.9 L500.6,541.0 L501.0,541.0 L501.4,541.0 L501.8,546.8 L502.2,542.0 L502.6,542.0 L503.0,542.0 L503.4,543.7 L503.8,547.4 L504.2,546.0 L504.6,536.0 L505.0,536.0 L505.4,536.0 L505.8,539.3 L506.2,542.0 L506.6,542.0 L507.0,537.0 L507.4,537.0 L507.8,537.0 L508.2,537.0 L508.6,542.9 L509.0,541.0 L509.4,541.0 L509.8,541.0 L510.2,546.8 L510.4,548.4 Z" fill="#3c8a4e" />
<line x1="297.40" y1="548.00" x2="510.40" y2="548.00" stroke="#3c8a4e" stroke-width="0.7"/>
<path d="M293.3,529.4 L294.7,529.4 L294.7,548.0 L293.3,548.0" fill="none" stroke="#555" stroke-width="0.5" />
<text x="291.60" y="532.18" font-size="6.4" text-anchor="end">2</text>
<text x="291.60" y="550.28" font-size="6.4" text-anchor="end">0</text>
<text x="296.10" y="527.21" font-size="7.1">Observed RNA-seq</text>
<text x="508.80" y="529.94" font-size="6.6" text-anchor="end">PCC = 0.41</text>
<path d="M297.4,583.2 L297.4,582.9 L297.8,582.9 L298.2,582.6 L298.6,582.7 L299.0,580.9 L299.4,578.4 L299.8,578.4 L300.2,582.9 L300.6,582.0 L301.0,580.9 L301.4,582.0 L301.8,580.7 L302.2,580.7 L302.6,582.8 L303.0,582.0 L303.4,580.9 L303.8,582.0 L304.2,582.7 L304.6,579.9 L305.0,579.9 L305.4,582.9 L305.8,580.4 L306.2,580.4 L306.6,578.4 L307.0,578.4 L307.4,582.0 L307.8,582.9 L308.2,582.9 L308.6,582.9 L309.0,582.5 L309.4,582.5 L309.8,582.8 L310.2,582.8 L310.6,582.9 L311.0,582.9 L311.4,582.6 L311.8,582.6 L312.2,582.6 L312.6,582.9 L313.0,582.9 L313.4,582.9 L313.8,581.9 L314.2,581.9 L314.6,582.8 L315.0,582.9 L315.4,582.9 L315.8,582.9 L316.2,582.9 L316.6,582.9 L317.0,582.9 L317.4,582.9 L317.8,582.9 L318.2,582.9 L318.6,582.9 L319.0,582.9 L319.4,582.9 L319.8,582.9 L320.2,582.9 L320.6,582.9 L321.0,582.9 L321.4,582.9 L321.8,582.9 L322.2,582.9 L322.6,582.9 L323.0,582.9 L323.4,582.9 L323.8,582.9 L324.2,582.9 L324.6,582.9 L325.0,582.9 L325.4,582.9 L325.8,577.5 L326.2,574.5 L326.6,574.5 L327.0,582.9 L327.4,582.9 L327.8,582.9 L328.2,582.9 L328.6,582.7 L329.0,582.7 L329.4,582.7 L329.8,582.6 L330.2,572.4 L330.6,572.4 L331.0,578.2 L331.4,572.9 L331.8,572.9 L332.2,582.9 L332.6,582.9 L333.0,582.9 L333.4,582.9 L333.8,582.9 L334.2,582.9 L334.6,582.9 L335.0,582.9 L335.4,582.9 L335.8,582.9 L336.2,582.9 L336.6,582.9 L337.0,582.9 L337.4,582.9 L337.8,582.9 L338.2,582.9 L338.6,582.9 L339.0,582.9 L339.4,582.9 L339.8,582.9 L340.2,582.9 L340.6,582.9 L341.0,582.9 L341.4,582.9 L341.8,582.8 L342.2,582.6 L342.6,582.6 L343.0,582.8 L343.4,582.9 L343.8,582.9 L344.2,582.9 L344.6,582.9 L345.0,577.3 L345.4,574.2 L345.8,574.2 L346.2,582.9 L346.6,582.9 L347.0,582.9 L347.4,582.8 L347.8,582.6 L348.2,582.8 L348.6,582.8 L349.0,582.8 L349.4,582.7 L349.8,582.7 L350.2,582.9 L350.6,582.9 L351.0,582.7 L351.4,582.6 L351.8,582.7 L352.2,582.9 L352.6,582.9 L353.0,582.9 L353.4,582.9 L353.8,582.9 L354.2,582.9 L354.6,582.9 L355.0,582.9 L355.4,582.9 L355.8,582.9 L356.2,582.9 L356.6,582.9 L357.0,582.9 L357.4,582.9 L357.8,582.9 L358.2,582.9 L358.6,582.9 L359.0,582.9 L359.4,582.7 L359.8,582.7 L360.2,582.9 L360.6,582.9 L361.0,582.9 L361.4,582.9 L361.8,582.9 L362.2,582.9 L362.6,582.9 L363.0,582.9 L363.4,582.9 L363.8,582.7 L364.2,582.7 L364.6,582.9 L365.0,582.9 L365.4,582.9 L365.8,582.9 L366.2,582.9 L366.6,582.9 L367.0,582.9 L367.4,582.9 L367.8,582.9 L368.2,582.9 L368.6,582.9 L369.0,582.9 L369.4,582.9 L369.8,582.5 L370.2,582.5 L370.6,582.5 L371.0,582.8 L371.4,582.9 L371.8,582.9 L372.2,582.9 L372.6,582.6 L373.0,582.3 L373.4,582.6 L373.8,582.9 L374.2,582.9 L374.6,582.6 L375.0,582.6 L375.4,582.8 L375.8,582.7 L376.2,582.9 L376.6,582.9 L377.0,582.9 L377.4,582.8 L377.8,582.8 L378.2,582.7 L378.6,582.7 L379.0,582.9 L379.4,582.9 L379.8,582.9 L380.2,582.9 L380.6,582.9 L381.0,582.7 L381.4,582.7 L381.8,582.9 L382.2,582.7 L382.6,582.5 L383.0,582.5 L383.4,582.5 L383.8,582.9 L384.2,582.9 L384.6,582.9 L385.0,582.9 L385.4,582.8 L385.8,582.8 L386.2,582.9 L386.6,582.9 L387.0,582.9 L387.4,582.9 L387.8,582.8 L388.2,582.8 L388.6,582.8 L389.0,582.9 L389.4,582.9 L389.8,582.7 L390.2,582.6 L390.6,582.9 L391.0,582.9 L391.4,582.9 L391.8,582.4 L392.2,582.4 L392.6,582.9 L393.0,582.9 L393.4,582.9 L393.8,582.9 L394.2,582.9 L394.6,582.9 L395.0,582.9 L395.4,582.9 L395.8,582.9 L396.2,582.5 L396.6,582.5 L397.0,582.9 L397.4,582.9 L397.8,582.9 L398.2,582.9 L398.6,582.9 L399.0,582.9 L399.4,582.9 L399.8,582.9 L400.2,582.9 L400.6,582.9 L401.0,582.9 L401.4,582.9 L401.8,582.9 L402.2,582.9 L402.6,582.9 L403.0,582.9 L403.4,582.9 L403.8,582.9 L404.2,582.9 L404.6,582.9 L405.0,582.9 L405.4,582.9 L405.8,582.9 L406.2,582.9 L406.6,582.9 L407.0,582.9 L407.4,582.9 L407.8,582.8 L408.2,582.8 L408.6,582.9 L409.0,582.9 L409.4,582.9 L409.8,582.9 L410.2,582.9 L410.6,582.9 L411.0,582.9 L411.4,582.9 L411.8,582.9 L412.2,582.9 L412.6,582.9 L413.0,582.9 L413.4,582.9 L413.8,582.9 L414.2,582.9 L414.6,582.9 L415.0,582.9 L415.4,582.9 L415.8,582.9 L416.2,582.9 L416.6,582.9 L417.0,582.9 L417.4,582.9 L417.8,582.7 L418.2,582.7 L418.6,582.9 L419.0,582.9 L419.4,582.9 L419.8,582.9 L420.2,582.9 L420.6,582.9 L421.0,582.9 L421.4,582.9 L421.8,582.9 L422.2,582.9 L422.6,582.9 L423.0,582.6 L423.4,582.6 L423.8,582.6 L424.2,582.9 L424.6,582.9 L425.0,582.9 L425.4,582.9 L425.8,582.9 L426.2,582.9 L426.6,582.7 L427.0,582.5 L427.4,582.7 L427.8,582.9 L428.2,582.9 L428.6,582.9 L429.0,582.9 L429.4,582.9 L429.8,582.9 L430.2,582.9 L430.6,582.9 L431.0,582.9 L431.4,582.9 L431.8,582.9 L432.2,582.9 L432.6,582.9 L433.0,582.8 L433.4,582.8 L433.8,582.9 L434.2,582.9 L434.6,582.9 L435.0,582.9 L435.4,582.6 L435.8,582.5 L436.2,582.5 L436.6,582.6 L437.0,582.9 L437.4,582.9 L437.8,582.9 L438.2,582.9 L438.6,582.9 L439.0,582.8 L439.4,582.8 L439.8,582.8 L440.2,582.8 L440.6,582.9 L441.0,582.9 L441.4,582.9 L441.8,582.9 L442.2,582.9 L442.6,582.9 L443.0,582.9 L443.4,582.9 L443.8,582.9 L444.2,582.9 L444.6,582.9 L445.0,582.9 L445.4,582.9 L445.8,582.9 L446.2,582.9 L446.6,582.9 L447.0,582.4 L447.4,581.7 L447.8,581.7 L448.2,582.9 L448.6,582.9 L449.0,582.9 L449.4,582.9 L449.8,581.9 L450.2,581.9 L450.6,582.9 L451.0,582.9 L451.4,582.9 L451.8,582.6 L452.2,582.5 L452.6,582.6 L453.0,582.9 L453.4,582.9 L453.8,582.9 L454.2,582.9 L454.6,582.9 L455.0,577.9 L455.4,571.6 L455.8,571.6 L456.2,577.9 L456.6,582.1 L457.0,571.9 L457.4,571.9 L457.8,573.9 L458.2,582.9 L458.6,582.9 L459.0,582.9 L459.4,582.9 L459.8,582.9 L460.2,582.6 L460.6,582.7 L461.0,582.5 L461.4,582.5 L461.8,582.9 L462.2,572.4 L462.6,572.4 L463.0,578.0 L463.4,571.9 L463.8,571.9 L464.2,582.9 L464.6,582.9 L465.0,582.9 L465.4,581.4 L465.8,581.4 L466.2,582.9 L466.6,582.9 L467.0,582.9 L467.4,582.5 L467.8,582.1 L468.2,582.1 L468.6,582.5 L469.0,582.9 L469.4,582.9 L469.8,582.9 L470.2,582.9 L470.6,582.9 L471.0,582.9 L471.4,582.9 L471.8,582.9 L472.2,582.9 L472.6,582.9 L473.0,582.9 L473.4,582.9 L473.8,582.9 L474.2,582.9 L474.6,582.9 L475.0,582.9 L475.4,582.9 L475.8,582.9 L476.2,582.9 L476.6,582.9 L477.0,582.9 L477.4,582.9 L477.8,582.9 L478.2,582.9 L478.6,582.9 L479.0,582.9 L479.4,582.9 L479.8,582.9 L480.2,582.9 L480.6,582.9 L481.0,582.9 L481.4,582.9 L481.8,582.9 L482.2,582.9 L482.6,582.9 L483.0,582.9 L483.4,582.9 L483.8,582.3 L484.2,582.3 L484.6,582.9 L485.0,582.9 L485.4,582.9 L485.8,582.9 L486.2,582.9 L486.6,582.9 L487.0,582.9 L487.4,582.9 L487.8,582.9 L488.2,582.9 L488.6,582.9 L489.0,582.8 L489.4,582.8 L489.8,582.7 L490.2,582.7 L490.6,582.9 L491.0,582.9 L491.4,582.9 L491.8,582.9 L492.2,582.9 L492.6,582.9 L493.0,582.8 L493.4,582.5 L493.8,582.5 L494.2,582.5 L494.6,581.6 L495.0,579.9 L495.4,579.9 L495.8,582.9 L496.2,582.9 L496.6,582.9 L497.0,582.9 L497.4,582.9 L497.8,582.9 L498.2,582.9 L498.6,582.9 L499.0,582.9 L499.4,582.9 L499.8,582.9 L500.2,582.9 L500.6,582.6 L501.0,582.6 L501.4,582.9 L501.8,582.9 L502.2,582.7 L502.6,582.7 L503.0,582.7 L503.4,582.6 L503.8,582.6 L504.2,582.7 L504.6,582.7 L505.0,582.8 L505.4,574.5 L505.8,574.5 L506.2,577.5 L506.6,580.7 L507.0,580.4 L507.4,580.7 L507.8,580.2 L508.2,576.9 L508.6,576.9 L509.0,582.9 L509.4,579.9 L509.8,579.9 L510.2,582.9 L510.4,583.2 Z" fill="#2f80c2" />
<line x1="297.40" y1="582.90" x2="510.40" y2="582.90" stroke="#2f80c2" stroke-width="0.7"/>
<path d="M293.3,564.5 L294.7,564.5 L294.7,582.9 L293.3,582.9" fill="none" stroke="#555" stroke-width="0.5" />
<text x="291.60" y="567.28" font-size="6.4" text-anchor="end">2</text>
<text x="291.60" y="585.18" font-size="6.4" text-anchor="end">0</text>
<text x="296.10" y="562.31" font-size="7.1">Predicted Ribo-seq (RNA-seq + gene sequence)</text>
<text x="508.80" y="567.14" font-size="6.6" text-anchor="end">PCC = 0.78</text>
<path d="M297.4,620.1 L297.4,619.7 L297.8,619.7 L298.2,619.7 L298.6,619.7 L299.0,618.8 L299.4,617.7 L299.8,617.7 L300.2,619.7 L300.6,619.2 L301.0,618.5 L301.4,619.2 L301.8,619.7 L302.2,618.1 L302.6,618.1 L303.0,619.7 L303.4,618.3 L303.8,618.3 L304.2,619.7 L304.6,617.7 L305.0,617.7 L305.4,619.7 L305.8,618.8 L306.2,617.7 L306.6,618.8 L307.0,616.6 L307.4,616.2 L307.8,616.6 L308.2,619.7 L308.6,619.7 L309.0,619.7 L309.4,619.7 L309.8,619.7 L310.2,619.7 L310.6,619.7 L311.0,619.7 L311.4,619.7 L311.8,619.7 L312.2,619.7 L312.6,619.7 L313.0,619.7 L313.4,619.7 L313.8,619.7 L314.2,619.7 L314.6,619.7 L315.0,619.7 L315.4,619.7 L315.8,619.7 L316.2,619.7 L316.6,619.7 L317.0,619.7 L317.4,619.7 L317.8,619.7 L318.2,619.7 L318.6,619.7 L319.0,619.7 L319.4,619.7 L319.8,619.7 L320.2,619.7 L320.6,619.7 L321.0,619.7 L321.4,619.7 L321.8,619.7 L322.2,619.7 L322.6,619.7 L323.0,619.7 L323.4,619.7 L323.8,619.7 L324.2,619.7 L324.6,619.7 L325.0,619.7 L325.4,619.7 L325.8,616.3 L326.2,614.4 L326.6,614.4 L327.0,619.7 L327.4,619.7 L327.8,619.7 L328.2,619.7 L328.6,619.7 L329.0,619.7 L329.4,619.7 L329.8,619.7 L330.2,613.1 L330.6,613.1 L331.0,616.8 L331.4,613.3 L331.8,613.3 L332.2,619.7 L332.6,619.7 L333.0,619.7 L333.4,619.7 L333.8,619.7 L334.2,619.7 L334.6,619.7 L335.0,619.7 L335.4,619.7 L335.8,619.7 L336.2,619.7 L336.6,619.7 L337.0,619.7 L337.4,619.7 L337.8,619.7 L338.2,619.7 L338.6,619.7 L339.0,619.7 L339.4,619.7 L339.8,619.7 L340.2,619.7 L340.6,619.7 L341.0,619.7 L341.4,619.7 L341.8,619.7 L342.2,619.7 L342.6,619.7 L343.0,619.7 L343.4,619.7 L343.8,619.7 L344.2,619.7 L344.6,619.7 L345.0,616.7 L345.4,615.0 L345.8,615.0 L346.2,619.7 L346.6,619.7 L347.0,619.7 L347.4,619.7 L347.8,619.7 L348.2,619.7 L348.6,619.7 L349.0,619.7 L349.4,619.7 L349.8,619.7 L350.2,619.7 L350.6,619.7 L351.0,619.7 L351.4,619.7 L351.8,619.7 L352.2,619.7 L352.6,619.7 L353.0,619.7 L353.4,619.7 L353.8,619.7 L354.2,619.7 L354.6,619.7 L355.0,619.7 L355.4,619.7 L355.8,619.7 L356.2,619.7 L356.6,619.7 L357.0,619.7 L357.4,619.7 L357.8,619.7 L358.2,619.7 L358.6,619.7 L359.0,619.7 L359.4,619.7 L359.8,619.7 L360.2,619.7 L360.6,619.7 L361.0,619.7 L361.4,619.7 L361.8,619.7 L362.2,619.7 L362.6,619.7 L363.0,619.7 L363.4,619.7 L363.8,619.7 L364.2,619.7 L364.6,619.7 L365.0,619.7 L365.4,619.7 L365.8,619.3 L366.2,619.3 L366.6,619.7 L367.0,619.7 L367.4,619.7 L367.8,619.7 L368.2,619.7 L368.6,619.7 L369.0,619.7 L369.4,619.7 L369.8,619.7 L370.2,619.7 L370.6,619.7 L371.0,619.7 L371.4,619.7 L371.8,619.7 L372.2,619.7 L372.6,619.7 L373.0,619.7 L373.4,619.7 L373.8,619.7 L374.2,619.7 L374.6,619.7 L375.0,619.7 L375.4,619.7 L375.8,619.7 L376.2,619.7 L376.6,619.7 L377.0,619.7 L377.4,619.7 L377.8,619.7 L378.2,619.7 L378.6,619.7 L379.0,619.7 L379.4,619.7 L379.8,619.7 L380.2,619.7 L380.6,619.7 L381.0,619.7 L381.4,619.7 L381.8,619.7 L382.2,619.7 L382.6,619.7 L383.0,619.7 L383.4,619.7 L383.8,619.7 L384.2,619.7 L384.6,619.7 L385.0,619.7 L385.4,619.7 L385.8,619.7 L386.2,619.7 L386.6,619.7 L387.0,619.7 L387.4,619.7 L387.8,619.7 L388.2,619.7 L388.6,619.7 L389.0,619.7 L389.4,619.7 L389.8,619.7 L390.2,619.7 L390.6,619.7 L391.0,619.7 L391.4,619.7 L391.8,619.7 L392.2,619.7 L392.6,619.7 L393.0,619.7 L393.4,619.7 L393.8,619.7 L394.2,619.7 L394.6,619.7 L395.0,619.7 L395.4,619.7 L395.8,619.7 L396.2,619.7 L396.6,619.7 L397.0,619.7 L397.4,619.7 L397.8,619.7 L398.2,619.7 L398.6,619.7 L399.0,619.7 L399.4,619.7 L399.8,619.7 L400.2,619.7 L400.6,619.7 L401.0,619.7 L401.4,619.7 L401.8,619.7 L402.2,619.7 L402.6,619.7 L403.0,619.7 L403.4,619.7 L403.8,619.7 L404.2,619.7 L404.6,619.7 L405.0,619.7 L405.4,619.7 L405.8,619.7 L406.2,619.7 L406.6,619.7 L407.0,619.7 L407.4,619.7 L407.8,619.7 L408.2,619.7 L408.6,619.7 L409.0,619.7 L409.4,619.7 L409.8,619.7 L410.2,619.7 L410.6,619.7 L411.0,619.7 L411.4,619.7 L411.8,619.7 L412.2,619.7 L412.6,619.7 L413.0,619.7 L413.4,619.7 L413.8,619.7 L414.2,619.7 L414.6,619.7 L415.0,619.7 L415.4,619.7 L415.8,619.7 L416.2,619.7 L416.6,619.7 L417.0,619.7 L417.4,619.7 L417.8,619.7 L418.2,619.7 L418.6,619.7 L419.0,619.7 L419.4,619.7 L419.8,619.7 L420.2,619.7 L420.6,619.7 L421.0,619.7 L421.4,619.7 L421.8,619.7 L422.2,619.7 L422.6,619.7 L423.0,619.7 L423.4,619.7 L423.8,619.7 L424.2,619.7 L424.6,619.7 L425.0,619.7 L425.4,619.7 L425.8,619.7 L426.2,619.7 L426.6,619.7 L427.0,619.7 L427.4,619.7 L427.8,619.7 L428.2,619.7 L428.6,619.7 L429.0,619.7 L429.4,619.7 L429.8,619.7 L430.2,619.7 L430.6,619.7 L431.0,619.7 L431.4,619.7 L431.8,619.7 L432.2,619.7 L432.6,619.7 L433.0,619.7 L433.4,619.7 L433.8,619.7 L434.2,619.7 L434.6,619.7 L435.0,619.7 L435.4,619.7 L435.8,619.7 L436.2,619.7 L436.6,619.7 L437.0,619.7 L437.4,619.7 L437.8,619.7 L438.2,619.7 L438.6,619.7 L439.0,619.7 L439.4,619.7 L439.8,619.7 L440.2,619.7 L440.6,619.7 L441.0,619.7 L441.4,619.7 L441.8,619.7 L442.2,619.7 L442.6,619.7 L443.0,619.7 L443.4,619.7 L443.8,619.7 L444.2,619.7 L444.6,619.7 L445.0,619.7 L445.4,619.7 L445.8,619.7 L446.2,619.7 L446.6,619.7 L447.0,619.7 L447.4,619.7 L447.8,619.7 L448.2,619.7 L448.6,619.7 L449.0,619.7 L449.4,619.7 L449.8,619.7 L450.2,619.7 L450.6,619.7 L451.0,619.7 L451.4,619.7 L451.8,619.7 L452.2,619.7 L452.6,619.7 L453.0,619.7 L453.4,619.7 L453.8,619.7 L454.2,619.7 L454.6,619.7 L455.0,615.4 L455.4,615.4 L455.8,615.4 L456.2,615.1 L456.6,615.1 L457.0,616.1 L457.4,615.7 L457.8,616.1 L458.2,619.7 L458.6,619.7 L459.0,619.7 L459.4,619.7 L459.8,619.7 L460.2,619.7 L460.6,619.7 L461.0,619.7 L461.4,619.7 L461.8,619.7 L462.2,616.7 L462.6,616.3 L463.0,616.7 L463.4,616.2 L463.8,616.2 L464.2,619.7 L464.6,619.7 L465.0,619.7 L465.4,619.7 L465.8,619.7 L466.2,619.7 L466.6,619.7 L467.0,619.7 L467.4,619.7 L467.8,619.7 L468.2,619.7 L468.6,619.7 L469.0,619.7 L469.4,619.7 L469.8,619.7 L470.2,619.7 L470.6,619.7 L471.0,619.7 L471.4,619.7 L471.8,619.7 L472.2,619.7 L472.6,619.7 L473.0,619.7 L473.4,619.7 L473.8,619.7 L474.2,619.7 L474.6,619.7 L475.0,619.7 L475.4,619.7 L475.8,619.7 L476.2,619.7 L476.6,619.7 L477.0,619.7 L477.4,619.7 L477.8,619.7 L478.2,619.7 L478.6,619.7 L479.0,619.7 L479.4,619.7 L479.8,619.7 L480.2,619.7 L480.6,619.7 L481.0,619.7 L481.4,619.7 L481.8,619.7 L482.2,619.7 L482.6,619.7 L483.0,619.7 L483.4,619.7 L483.8,619.7 L484.2,619.7 L484.6,619.7 L485.0,619.7 L485.4,619.7 L485.8,619.7 L486.2,619.7 L486.6,619.7 L487.0,619.7 L487.4,619.7 L487.8,619.7 L488.2,619.7 L488.6,619.7 L489.0,619.7 L489.4,619.7 L489.8,619.7 L490.2,619.7 L490.6,619.7 L491.0,619.7 L491.4,619.7 L491.8,619.7 L492.2,619.7 L492.6,619.7 L493.0,619.7 L493.4,619.7 L493.8,619.7 L494.2,619.7 L494.6,619.7 L495.0,619.7 L495.4,619.7 L495.8,619.7 L496.2,619.7 L496.6,619.7 L497.0,619.7 L497.4,619.7 L497.8,619.7 L498.2,619.7 L498.6,619.7 L499.0,619.7 L499.4,619.7 L499.8,619.7 L500.2,619.7 L500.6,619.7 L501.0,619.7 L501.4,619.7 L501.8,619.7 L502.2,619.7 L502.6,619.7 L503.0,619.7 L503.4,619.7 L503.8,619.7 L504.2,619.7 L504.6,619.7 L505.0,619.7 L505.4,615.2 L505.8,615.2 L506.2,617.7 L506.6,619.7 L507.0,619.7 L507.4,619.7 L507.8,619.7 L508.2,619.7 L508.6,619.7 L509.0,619.7 L509.4,619.7 L509.8,619.7 L510.2,619.7 L510.4,620.1 Z" fill="#d65f1f" />
<line x1="297.40" y1="619.70" x2="510.40" y2="619.70" stroke="#d65f1f" stroke-width="0.7"/>
<path d="M293.3,600.8 L294.7,600.8 L294.7,619.7 L293.3,619.7" fill="none" stroke="#555" stroke-width="0.5" />
<text x="291.60" y="603.58" font-size="6.4" text-anchor="end">2</text>
<text x="291.60" y="621.98" font-size="6.4" text-anchor="end">0</text>
<text x="296.10" y="598.61" font-size="7.1">Predicted Ribo-seq (RNA-seq only)</text>
<text x="508.80" y="603.94" font-size="6.6" text-anchor="end">PCC = 0.70</text>
<path d="M297.4,656.1 L297.4,655.8 L297.8,655.8 L298.2,655.8 L298.6,655.8 L299.0,655.8 L299.4,655.8 L299.8,655.8 L300.2,655.8 L300.6,655.8 L301.0,655.8 L301.4,655.8 L301.8,655.8 L302.2,655.8 L302.6,655.8 L303.0,655.8 L303.4,655.8 L303.8,655.8 L304.2,655.8 L304.6,655.8 L305.0,655.8 L305.4,655.8 L305.8,655.8 L306.2,655.8 L306.6,655.8 L307.0,655.8 L307.4,655.8 L307.8,655.8 L308.2,655.8 L308.6,655.8 L309.0,655.8 L309.4,655.8 L309.8,655.8 L310.2,655.8 L310.6,655.8 L311.0,655.8 L311.4,655.8 L311.8,655.8 L312.2,655.8 L312.6,655.8 L313.0,655.8 L313.4,655.8 L313.8,655.8 L314.2,655.8 L314.6,655.8 L315.0,655.8 L315.4,655.8 L315.8,655.8 L316.2,655.8 L316.6,655.8 L317.0,655.8 L317.4,655.8 L317.8,655.8 L318.2,655.8 L318.6,655.8 L319.0,655.8 L319.4,655.8 L319.8,655.8 L320.2,655.8 L320.6,655.8 L321.0,655.8 L321.4,655.8 L321.8,655.8 L322.2,655.8 L322.6,655.8 L323.0,655.8 L323.4,655.8 L323.8,655.8 L324.2,655.8 L324.6,655.8 L325.0,655.8 L325.4,655.8 L325.8,655.8 L326.2,655.8 L326.6,655.8 L327.0,655.8 L327.4,655.8 L327.8,655.8 L328.2,655.8 L328.6,655.8 L329.0,655.8 L329.4,655.8 L329.8,655.8 L330.2,655.8 L330.6,652.2 L331.0,651.8 L331.4,652.2 L331.8,655.8 L332.2,655.8 L332.6,655.8 L333.0,655.8 L333.4,655.8 L333.8,655.8 L334.2,655.8 L334.6,655.8 L335.0,655.8 L335.4,655.8 L335.8,655.8 L336.2,655.8 L336.6,655.8 L337.0,655.8 L337.4,655.8 L337.8,655.8 L338.2,655.8 L338.6,655.8 L339.0,655.8 L339.4,655.8 L339.8,655.8 L340.2,655.8 L340.6,655.8 L341.0,655.8 L341.4,655.8 L341.8,655.8 L342.2,655.8 L342.6,655.8 L343.0,655.8 L343.4,655.8 L343.8,655.8 L344.2,655.8 L344.6,655.8 L345.0,652.4 L345.4,648.2 L345.8,648.2 L346.2,655.8 L346.6,655.8 L347.0,655.8 L347.4,655.8 L347.8,655.8 L348.2,655.8 L348.6,655.8 L349.0,655.8 L349.4,655.8 L349.8,655.8 L350.2,655.8 L350.6,655.8 L351.0,655.8 L351.4,655.8 L351.8,655.8 L352.2,655.8 L352.6,655.8 L353.0,655.8 L353.4,655.8 L353.8,655.8 L354.2,655.8 L354.6,655.8 L355.0,655.8 L355.4,655.8 L355.8,655.8 L356.2,655.8 L356.6,655.8 L357.0,655.8 L357.4,655.8 L357.8,655.8 L358.2,655.8 L358.6,655.8 L359.0,655.8 L359.4,655.8 L359.8,655.8 L360.2,655.8 L360.6,655.8 L361.0,655.8 L361.4,655.8 L361.8,655.8 L362.2,655.8 L362.6,655.8 L363.0,655.8 L363.4,655.8 L363.8,655.8 L364.2,655.8 L364.6,655.8 L365.0,655.8 L365.4,655.8 L365.8,655.8 L366.2,655.8 L366.6,655.8 L367.0,655.8 L367.4,655.8 L367.8,655.8 L368.2,655.8 L368.6,655.8 L369.0,655.8 L369.4,655.8 L369.8,655.8 L370.2,655.8 L370.6,655.8 L371.0,655.8 L371.4,655.8 L371.8,655.8 L372.2,655.8 L372.6,655.8 L373.0,655.8 L373.4,655.8 L373.8,655.8 L374.2,655.8 L374.6,655.8 L375.0,655.8 L375.4,655.8 L375.8,655.8 L376.2,655.8 L376.6,655.8 L377.0,655.8 L377.4,655.8 L377.8,655.8 L378.2,655.8 L378.6,655.8 L379.0,655.8 L379.4,655.8 L379.8,655.8 L380.2,655.8 L380.6,655.8 L381.0,655.8 L381.4,655.8 L381.8,655.8 L382.2,655.8 L382.6,655.8 L383.0,655.8 L383.4,655.8 L383.8,655.8 L384.2,655.8 L384.6,655.8 L385.0,655.8 L385.4,655.8 L385.8,655.8 L386.2,655.8 L386.6,655.8 L387.0,655.8 L387.4,655.8 L387.8,655.8 L388.2,655.8 L388.6,655.8 L389.0,655.8 L389.4,655.8 L389.8,655.8 L390.2,655.8 L390.6,655.8 L391.0,655.8 L391.4,655.8 L391.8,655.8 L392.2,655.8 L392.6,655.8 L393.0,655.8 L393.4,655.8 L393.8,655.8 L394.2,655.8 L394.6,655.8 L395.0,655.8 L395.4,655.8 L395.8,655.8 L396.2,655.8 L396.6,655.8 L397.0,655.8 L397.4,655.8 L397.8,655.8 L398.2,655.8 L398.6,655.8 L399.0,655.8 L399.4,655.8 L399.8,655.8 L400.2,655.8 L400.6,655.8 L401.0,655.8 L401.4,655.8 L401.8,655.8 L402.2,655.8 L402.6,655.8 L403.0,655.8 L403.4,655.8 L403.8,655.8 L404.2,655.8 L404.6,655.8 L405.0,655.8 L405.4,655.8 L405.8,655.8 L406.2,655.8 L406.6,655.8 L407.0,655.8 L407.4,655.8 L407.8,655.8 L408.2,655.8 L408.6,655.8 L409.0,655.8 L409.4,655.8 L409.8,655.8 L410.2,655.8 L410.6,655.8 L411.0,655.8 L411.4,655.8 L411.8,655.8 L412.2,655.8 L412.6,655.8 L413.0,655.8 L413.4,655.8 L413.8,655.8 L414.2,655.8 L414.6,655.8 L415.0,655.8 L415.4,655.8 L415.8,655.8 L416.2,655.8 L416.6,655.8 L417.0,655.8 L417.4,655.8 L417.8,655.8 L418.2,655.8 L418.6,655.8 L419.0,655.8 L419.4,655.8 L419.8,655.8 L420.2,655.8 L420.6,655.8 L421.0,655.8 L421.4,655.8 L421.8,655.8 L422.2,655.8 L422.6,655.8 L423.0,655.8 L423.4,655.8 L423.8,655.8 L424.2,655.8 L424.6,655.8 L425.0,655.8 L425.4,655.8 L425.8,655.8 L426.2,655.8 L426.6,655.8 L427.0,655.8 L427.4,655.8 L427.8,655.8 L428.2,655.8 L428.6,655.8 L429.0,655.8 L429.4,655.8 L429.8,655.8 L430.2,655.8 L430.6,655.8 L431.0,655.8 L431.4,655.8 L431.8,655.8 L432.2,655.8 L432.6,655.8 L433.0,655.8 L433.4,655.8 L433.8,655.8 L434.2,655.8 L434.6,655.8 L435.0,655.8 L435.4,655.8 L435.8,655.8 L436.2,655.8 L436.6,655.8 L437.0,655.8 L437.4,655.8 L437.8,655.8 L438.2,655.8 L438.6,655.8 L439.0,655.8 L439.4,655.8 L439.8,655.8 L440.2,655.8 L440.6,655.8 L441.0,655.8 L441.4,655.8 L441.8,655.8 L442.2,655.8 L442.6,655.8 L443.0,655.8 L443.4,655.8 L443.8,655.8 L444.2,655.8 L444.6,655.8 L445.0,655.8 L445.4,655.8 L445.8,655.8 L446.2,655.8 L446.6,655.8 L447.0,655.8 L447.4,655.8 L447.8,655.8 L448.2,655.8 L448.6,655.8 L449.0,655.8 L449.4,655.8 L449.8,655.8 L450.2,655.8 L450.6,655.8 L451.0,655.8 L451.4,655.8 L451.8,655.8 L452.2,655.8 L452.6,655.8 L453.0,655.8 L453.4,655.8 L453.8,655.8 L454.2,655.8 L454.6,655.8 L455.0,655.8 L455.4,655.8 L455.8,655.8 L456.2,655.8 L456.6,655.8 L457.0,655.8 L457.4,655.8 L457.8,655.8 L458.2,655.8 L458.6,655.8 L459.0,655.8 L459.4,655.8 L459.8,655.8 L460.2,655.8 L460.6,655.8 L461.0,655.8 L461.4,655.8 L461.8,655.8 L462.2,655.8 L462.6,654.1 L463.0,653.3 L463.4,654.1 L463.8,655.8 L464.2,655.8 L464.6,655.8 L465.0,655.8 L465.4,655.8 L465.8,655.8 L466.2,655.8 L466.6,655.8 L467.0,655.8 L467.4,655.8 L467.8,655.8 L468.2,655.8 L468.6,655.8 L469.0,655.8 L469.4,655.8 L469.8,655.8 L470.2,655.8 L470.6,655.8 L471.0,655.8 L471.4,655.8 L471.8,655.8 L472.2,655.8 L472.6,655.8 L473.0,655.8 L473.4,655.8 L473.8,655.8 L474.2,655.8 L474.6,655.8 L475.0,655.8 L475.4,655.8 L475.8,655.8 L476.2,655.8 L476.6,655.8 L477.0,655.8 L477.4,655.8 L477.8,655.8 L478.2,655.8 L478.6,655.8 L479.0,655.8 L479.4,655.8 L479.8,655.8 L480.2,655.8 L480.6,655.8 L481.0,655.8 L481.4,655.8 L481.8,655.8 L482.2,655.8 L482.6,655.8 L483.0,655.8 L483.4,655.8 L483.8,655.8 L484.2,655.8 L484.6,655.8 L485.0,655.8 L485.4,655.8 L485.8,655.8 L486.2,655.8 L486.6,655.8 L487.0,655.8 L487.4,655.8 L487.8,655.8 L488.2,655.8 L488.6,655.8 L489.0,655.8 L489.4,655.8 L489.8,655.8 L490.2,655.8 L490.6,655.8 L491.0,655.8 L491.4,655.8 L491.8,655.8 L492.2,655.8 L492.6,655.8 L493.0,655.8 L493.4,655.8 L493.8,655.8 L494.2,655.8 L494.6,655.8 L495.0,655.8 L495.4,655.8 L495.8,655.8 L496.2,655.8 L496.6,655.8 L497.0,655.8 L497.4,655.8 L497.8,655.8 L498.2,655.8 L498.6,655.8 L499.0,655.8 L499.4,655.8 L499.8,655.8 L500.2,655.8 L500.6,655.8 L501.0,655.8 L501.4,655.8 L501.8,655.8 L502.2,655.8 L502.6,655.8 L503.0,655.8 L503.4,655.8 L503.8,655.8 L504.2,655.8 L504.6,655.8 L505.0,655.8 L505.4,650.5 L505.8,650.5 L506.2,653.4 L506.6,655.8 L507.0,655.8 L507.4,655.8 L507.8,655.8 L508.2,655.8 L508.6,655.8 L509.0,655.8 L509.4,655.8 L509.8,655.8 L510.2,655.8 L510.4,656.1 Z" fill="#f09a5e" />
<line x1="297.40" y1="655.80" x2="510.40" y2="655.80" stroke="#f09a5e" stroke-width="0.7"/>
<path d="M293.3,637.1 L294.7,637.1 L294.7,655.8 L293.3,655.8" fill="none" stroke="#555" stroke-width="0.5" />
<text x="291.60" y="639.88" font-size="6.4" text-anchor="end">2</text>
<text x="291.60" y="658.08" font-size="6.4" text-anchor="end">0</text>
<text x="296.10" y="634.61" font-size="7.1">Predicted Ribo-seq (RNA-seq, gene sequence masked)</text>
<text x="508.80" y="642.14" font-size="6.6" text-anchor="end">PCC = 0.41</text>
<text x="276.40" y="503.20" font-size="7.15" text-anchor="middle" transform="rotate(-90 276.40 503.20)">Observed</text>
<text x="283.40" y="502.80" font-size="7.15" text-anchor="middle" transform="rotate(-90 283.40 502.80)">signal</text>
<text x="276.40" y="539.00" font-size="7.15" text-anchor="middle" transform="rotate(-90 276.40 539.00)">Observed</text>
<text x="283.40" y="538.60" font-size="7.15" text-anchor="middle" transform="rotate(-90 283.40 538.60)">signal</text>
<text x="276.40" y="574.20" font-size="7.15" text-anchor="middle" transform="rotate(-90 276.40 574.20)">Predicted</text>
<text x="283.40" y="573.80" font-size="7.15" text-anchor="middle" transform="rotate(-90 283.40 573.80)">signal</text>
<text x="276.40" y="611.00" font-size="7.15" text-anchor="middle" transform="rotate(-90 276.40 611.00)">Predicted</text>
<text x="283.40" y="610.60" font-size="7.15" text-anchor="middle" transform="rotate(-90 283.40 610.60)">signal</text>
<text x="276.40" y="647.20" font-size="7.15" text-anchor="middle" transform="rotate(-90 276.40 647.20)">Predicted</text>
<text x="283.40" y="646.80" font-size="7.15" text-anchor="middle" transform="rotate(-90 283.40 646.80)">signal</text>
<line x1="301.30" y1="656.10" x2="301.30" y2="657.80" stroke="#777" stroke-width="0.5"/>
<text x="301.60" y="666.64" font-size="6.0" text-anchor="middle">114,090 kb</text>
<line x1="366.40" y1="656.10" x2="366.40" y2="657.80" stroke="#777" stroke-width="0.5"/>
<text x="366.40" y="666.64" font-size="6.0" text-anchor="middle">114,110 kb</text>
<line x1="431.40" y1="656.10" x2="431.40" y2="657.80" stroke="#777" stroke-width="0.5"/>
<text x="431.40" y="666.64" font-size="6.0" text-anchor="middle">114,130 kb</text>
<line x1="496.40" y1="656.10" x2="496.40" y2="657.80" stroke="#777" stroke-width="0.5"/>
<text x="496.40" y="666.64" font-size="6.0" text-anchor="middle">114,150 kb</text>
<line x1="298.70" y1="674.10" x2="510.20" y2="674.10" stroke="#26348f" stroke-width="0.55"/>
<rect x="298.70" y="673.05" width="9.40" height="2.10" fill="#26348f"/>
<path d="M311.6,672.75 L310.5,674.10 L311.6,675.45 M314.2,672.75 L313.1,674.10 L314.2,675.45 M316.8,672.75 L315.7,674.10 L316.8,675.45 M319.4,672.75 L318.3,674.10 L319.4,675.45 M322.0,672.75 L320.9,674.10 L322.0,675.45 M324.6,672.75 L323.5,674.10 L324.6,675.45 M327.2,672.75 L326.1,674.10 L327.2,675.45 M329.8,672.75 L328.7,674.10 L329.8,675.45 M332.4,672.75 L331.3,674.10 L332.4,675.45 M335.0,672.75 L333.9,674.10 L335.0,675.45 M337.6,672.75 L336.5,674.10 L337.6,675.45 M340.2,672.75 L339.1,674.10 L340.2,675.45 M342.8,672.75 L341.7,674.10 L342.8,675.45 M345.4,672.75 L344.3,674.10 L345.4,675.45 M348.0,672.75 L346.9,674.10 L348.0,675.45 M350.6,672.75 L349.5,674.10 L350.6,675.45 M353.2,672.75 L352.1,674.10 L353.2,675.45 M355.8,672.75 L354.7,674.10 L355.8,675.45 M358.4,672.75 L357.3,674.10 L358.4,675.45 M361.0,672.75 L359.9,674.10 L361.0,675.45 M363.6,672.75 L362.5,674.10 L363.6,675.45 M366.2,672.75 L365.1,674.10 L366.2,675.45 M368.8,672.75 L367.7,674.10 L368.8,675.45 M371.4,672.75 L370.3,674.10 L371.4,675.45 M374.0,672.75 L372.9,674.10 L374.0,675.45 M376.6,672.75 L375.5,674.10 L376.6,675.45 M379.2,672.75 L378.1,674.10 L379.2,675.45 M381.8,672.75 L380.7,674.10 L381.8,675.45 M384.4,672.75 L383.3,674.10 L384.4,675.45 M387.0,672.75 L385.9,674.10 L387.0,675.45 M389.6,672.75 L388.5,674.10 L389.6,675.45 M392.2,672.75 L391.1,674.10 L392.2,675.45 M394.8,672.75 L393.7,674.10 L394.8,675.45 M397.4,672.75 L396.3,674.10 L397.4,675.45 M400.0,672.75 L398.9,674.10 L400.0,675.45 M402.6,672.75 L401.5,674.10 L402.6,675.45 M405.2,672.75 L404.1,674.10 L405.2,675.45 M407.8,672.75 L406.7,674.10 L407.8,675.45 M410.4,672.75 L409.3,674.10 L410.4,675.45 M413.0,672.75 L411.9,674.10 L413.0,675.45 M415.6,672.75 L414.5,674.10 L415.6,675.45 M418.2,672.75 L417.1,674.10 L418.2,675.45 M420.8,672.75 L419.7,674.10 L420.8,675.45 M423.4,672.75 L422.3,674.10 L423.4,675.45 M426.0,672.75 L424.9,674.10 L426.0,675.45 M428.6,672.75 L427.5,674.10 L428.6,675.45 M431.2,672.75 L430.1,674.10 L431.2,675.45 M433.8,672.75 L432.7,674.10 L433.8,675.45 M436.4,672.75 L435.3,674.10 L436.4,675.45 M439.0,672.75 L437.9,674.10 L439.0,675.45 M441.6,672.75 L440.5,674.10 L441.6,675.45 M444.2,672.75 L443.1,674.10 L444.2,675.45 M446.8,672.75 L445.7,674.10 L446.8,675.45 M449.4,672.75 L448.3,674.10 L449.4,675.45 M452.0,672.75 L450.9,674.10 L452.0,675.45 M454.6,672.75 L453.5,674.10 L454.6,675.45 M457.2,672.75 L456.1,674.10 L457.2,675.45 M459.8,672.75 L458.7,674.10 L459.8,675.45 M462.4,672.75 L461.3,674.10 L462.4,675.45 M465.0,672.75 L463.9,674.10 L465.0,675.45 M467.6,672.75 L466.5,674.10 L467.6,675.45 M470.2,672.75 L469.1,674.10 L470.2,675.45 M472.8,672.75 L471.7,674.10 L472.8,675.45 M475.4,672.75 L474.3,674.10 L475.4,675.45 M478.0,672.75 L476.9,674.10 L478.0,675.45 M480.6,672.75 L479.5,674.10 L480.6,675.45 M483.2,672.75 L482.1,674.10 L483.2,675.45 M485.8,672.75 L484.7,674.10 L485.8,675.45 M488.4,672.75 L487.3,674.10 L488.4,675.45 M491.0,672.75 L489.9,674.10 L491.0,675.45 M493.6,672.75 L492.5,674.10 L493.6,675.45 M496.2,672.75 L495.1,674.10 L496.2,675.45 M498.8,672.75 L497.7,674.10 L498.8,675.45 M501.4,672.75 L500.3,674.10 L501.4,675.45 M504.0,672.75 L502.9,674.10 L504.0,675.45 M506.6,672.75 L505.5,674.10 L506.6,675.45 M509.2,672.75 L508.1,674.10 L509.2,675.45 " fill="none" stroke="#26348f" stroke-width="0.7" />
<rect x="325.80" y="672.20" width="0.80" height="3.80" fill="#26348f"/>
<rect x="330.30" y="672.20" width="1.00" height="3.80" fill="#26348f"/>
<rect x="344.90" y="672.20" width="0.80" height="3.80" fill="#26348f"/>
<rect x="454.70" y="672.20" width="1.80" height="3.80" fill="#26348f"/>
<rect x="462.55" y="672.20" width="0.90" height="3.80" fill="#26348f"/>
<rect x="509.40" y="672.20" width="0.80" height="3.80" fill="#26348f"/>
<text x="287.60" y="683.79" font-size="6.75">chr1:114,088,812–114,154,348</text>
<text x="399.50" y="683.79" font-size="6.75" font-style="italic">SYT6</text>
</svg>
</body>
</html>
